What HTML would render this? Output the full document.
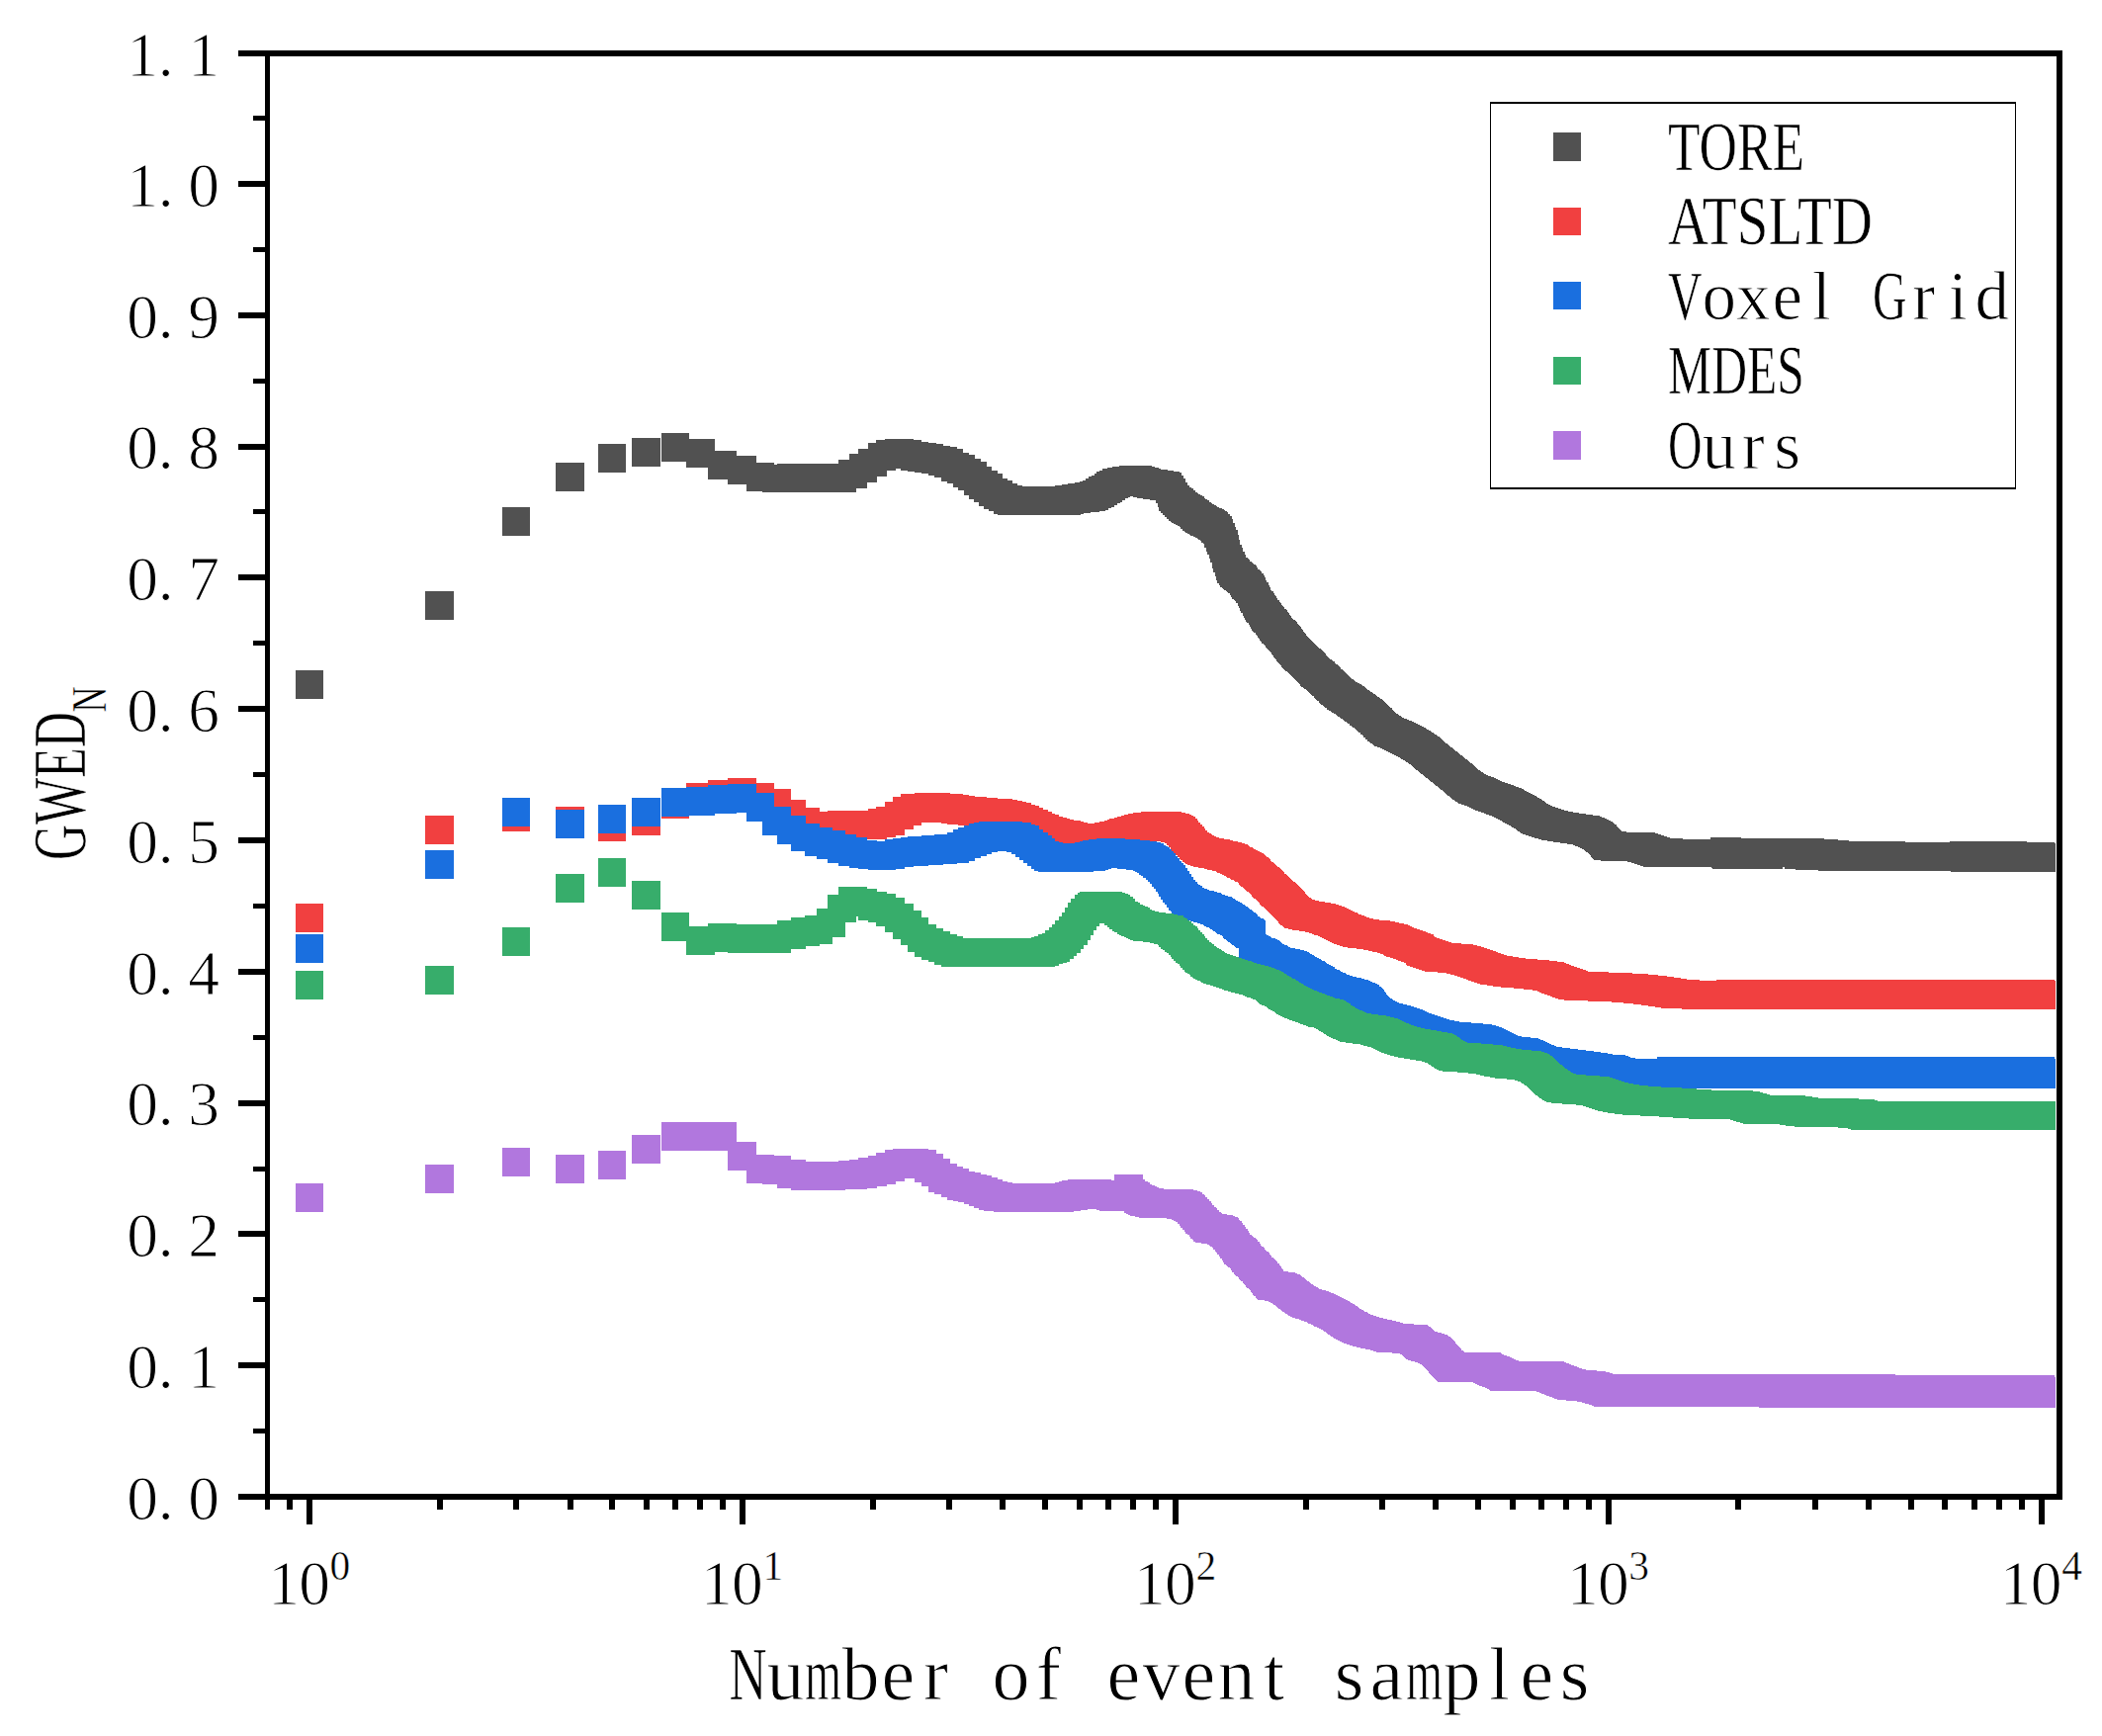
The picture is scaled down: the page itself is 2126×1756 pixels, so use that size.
<!DOCTYPE html>
<html lang="en"><head><meta charset="utf-8"><title>GWED vs number of event samples</title>
<style>html,body{margin:0;padding:0;background:#fff}svg{display:block}text{font-family:"Liberation Serif","Noto Serif CJK SC",serif;fill:#000;stroke:#fff;stroke-width:1px}.c{stroke-width:.6px}.s{stroke-width:.5px}.m{fill:none;stroke-width:28.7;stroke-linecap:square}</style></head><body>
<svg width="2126" height="1756" viewBox="0 0 2126 1756">
<rect width="2126" height="1756" fill="#fff"/>
<g shape-rendering="crispEdges">
<path class="m" stroke="#515151" d="M312.9 692.4h0M444.8 612.7h0M521.9 527.4h0M576.6 482.8h0M619 463.5h0M653.7 457.4h0M683 452.2h0M708.4 458.6h0M730.8 470.7h0M750.8 475.6h0M769 482.8h0M785.5 484h0M800.7 483.3h0M814.8 483.3h0M828 483.3h0M840.2 483.3h0M851.8 483.3h0M862.6 479.7h0M872.9 473.4h0M882.7 468h0M891.9 461.9h0M900.8 459.6h0M909.3 458.5h0M917.3 459.8h0M925.1 461.5h0M932.6 462.6h0M939.7 463.7h0M946.7 464.9h0M953.3 466.3h0M959.8 468.5h0M966 472.2h0M972.1 474.7h0M977.9 478.2h0M983.6 481.7h0M989.1 486.7h0M994.5 490.4h0M999.7 493.7h0M1004.7 498h0M1009.7 500.4h0M1014.5 502.9h0M1019.2 505.2h0M1023.8 506.4h0M1028.2 506.7h0M1032.6 506.8h0M1036.9 506.9h0M1041.1 507h0M1045.2 506.9h0M1049.2 506.9h0M1053.1 506.8h0M1056.9 506.8h0M1060.7 506.7h0M1064.4 506.6h0M1068 506.6h0M1071.6 506.5h0M1075.1 506.5h0M1078.5 506.2h0M1081.8 505.8h0M1085.2 505.1h0M1088.4 504.5h0M1091.6 504h0M1094.7 503.6h0M1097.8 503.2h0M1100.9 502.8h0M1103.9 502.4h0M1106.8 501.5h0M1109.7 500.1h0M1112.6 498.5h0M1115.4 496.8h0M1118.2 495h0M1120.9 493.3h0M1123.6 491.6h0M1126.3 489.9h0M1128.9 488.6h0M1131.5 487.9h0M1134 487.3h0M1136.6 486.9h0M1139 486.6h0M1141.5 486.4h0M1143.9 486.1h0M1146.3 485.8h0M1148.7 485.6h0M1151 485.3h0M1153.3 486.1h0M1155.6 487h0M1157.8 487.8h0M1160.1 488.7h0M1162.3 489.1h0M1164.4 489.4h0M1166.6 489.8h0M1168.7 490.1h0M1170.8 490.5h0M1172.9 490.8h0M1174.9 491.1h0M1177 491.5h0M1179 491.8h0M1181 492.1h0M1183 494.9h0M1184.9 498.7h0M1186.8 502.6h0M1188.8 505h0M1190.6 506.9h0M1192.5 508.8h0M1194.4 510.7h0M1196.2 512.4h0M1198 513.5h0M1199.8 514.6h0M1201.6 515.7h0M1203.4 516.8h0M1205.1 518h0M1206.9 519.1h0M1208.6 520.6h0M1210.3 522.2h0M1212 523.8h0M1213.7 524.7h0M1215.3 525.5h0M1217 526.4h0M1218.6 527.2h0M1220.2 528h0M1221.8 528.8h0M1223.4 529.6h0M1225 530.5h0M1226.6 531.3h0M1228.1 532.4h0M1229.7 534.2h0M1231.2 535.9h0M1232.7 539.5h0M1234.2 543.3h0M1235.7 546.9h0M1237.2 550.7h0M1238.6 554.9h0M1240.1 560.4h0M1241.5 564.9h0M1243 568.6h0M1244.4 572.2h0M1245.8 575.7h0M1247.2 577.9h0M1248.6 579.3h0M1250 580.7h0M1251.4 581.9h0M1252.7 582.9h0M1254.1 583.9h0M1255.4 584.9h0M1256.8 586.1h0M1258.1 588.1h0M1259.4 590h0M1260.7 591.4h0M1262 592.7h0M1263.3 594h0M1264.6 596.1h0M1265.9 598.6h0M1267.1 601.1h0M1268.4 603.7h0M1269.6 606.1h0M1270.9 608.6h0M1272.1 611h0M1273.3 612.8h0M1274.5 614.5h0M1275.7 616.1h0M1276.9 617.8h0M1278.1 619.6h0M1279.3 621.5h0M1280.5 623.3h0M1281.7 624.7h0M1282.8 626h0M1284 627.4h0M1285.1 628.7h0M1286.3 630.2h0M1287.4 631.8h0M1288.5 633.3h0M1289.7 634.8h0M1290.8 636.2h0M1291.9 637.7h0M1293 639.1h0M1294.1 640.5h0M1295.2 641.6h0M1296.3 642.7h0M1297.3 643.8h0M1298.4 644.9h0M1299.5 646h0M1300.5 647.3h0M1301.6 648.7h0M1302.6 650.2h0M1303.7 651.6h0M1304.7 652.9h0M1305.7 654.3h0M1306.8 655.6h0M1307.8 656.9h0M1308.8 658.1h0M1309.8 659.1h0M1310.8 660.2h0M1311.8 661.2h0M1312.8 662.2h0M1313.8 663.2h0M1314.8 664.2h0M1315.8 665.1h0M1316.7 666.1h0M1317.7 667h0M1318.7 668h0M1319.6 668.9h0M1320.6 669.9h0M1321.5 670.8h0M1322.5 671.8h0M1323.4 672.8h0M1324.3 673.7h0M1325.3 674.7h0M1326.2 675.6h0M1327.1 676.5h0M1328 677.4h0M1328.9 678.3h0M1329.8 679.2h0M1330.8 680.2h0M1331.7 681h0M1332.5 681.7h0M1333.4 682.4h0M1334.3 683.1h0M1335.2 683.8h0M1336.1 684.5h0M1337 685.2h0M1337.8 685.9h0M1338.7 686.6h0M1339.6 687.5h0M1340.4 688.3h0M1341.3 689.2h0M1342.1 690h0M1343 690.9h0M1343.8 691.7h0M1344.7 692.6h0M1345.5 693.4h0M1346.3 694.2h0M1347.2 695.1h0M1348 695.9h0M1348.8 696.7h0M1349.6 697.5h0M1350.4 698.3h0M1351.2 698.9h0M1352 699.6h0M1352.9 700.2h0M1353.7 700.9h0M1354.5 701.5h0M1355.2 702.1h0M1356 702.8h0M1356.8 703.4h0M1357.6 704h0M1358.4 704.4h0M1359.2 704.9h0M1359.9 705.4h0M1360.7 705.8h0M1361.5 706.3h0M1362.2 706.8h0M1363 707.2h0M1363.8 707.7h0M1364.5 708.1h0M1365.3 708.7h0M1366 709.2h0M1366.8 709.8h0M1367.5 710.3h0M1368.3 710.9h0M1369 711.4h0M1369.7 712h0M1370.5 712.5h0M1371.2 713h0M1371.9 713.6h0M1372.6 714.1h0M1373.4 714.6h0M1374.1 715.1h0M1374.8 715.6h0M1375.5 716.1h0M1376.2 716.6h0M1376.9 717.1h0M1377.6 717.6h0M1378.3 718.1h0M1379 718.6h0M1379.7 719.2h0M1380.4 719.7h0M1381.1 720.2h0M1381.8 720.7h0M1382.5 721.2h0M1383.2 721.7h0M1383.9 722.2h0M1384.6 722.7h0M1385.2 723.4h0M1385.9 724h0M1386.6 724.6h0M1387.3 725.2h0M1387.9 725.8h0M1388.6 726.4h0M1389.3 727h0M1389.9 727.6h0M1390.6 728.3h0M1391.2 728.9h0M1391.9 729.5h0M1392.5 730.1h0M1393.2 730.8h0M1393.8 731.4h0M1394.5 732.1h0M1395.1 732.7h0M1395.8 733.4h0M1396.4 734h0M1397 734.6h0M1397.7 735.2h0M1398.7 735.9h0M1399.7 736.6h0M1400.7 737.3h0M1401.7 738.1h0M1402.7 738.8h0M1403.7 739.5h0M1404.7 740.2h0M1405.7 740.6h0M1406.7 741h0M1407.7 741.4h0M1408.7 741.8h0M1409.7 742.1h0M1410.7 742.5h0M1411.7 742.9h0M1412.7 743.3h0M1413.7 743.8h0M1414.7 744.3h0M1415.7 744.8h0M1416.7 745.3h0M1417.7 745.8h0M1418.7 746.3h0M1419.7 746.8h0M1420.7 747.2h0M1421.7 747.7h0M1422.7 748.2h0M1423.7 748.8h0M1424.7 749.3h0M1425.7 749.8h0M1426.7 750.3h0M1427.7 750.8h0M1428.7 751.4h0M1429.7 752h0M1430.7 752.6h0M1431.7 753.2h0M1432.7 753.8h0M1433.7 754.4h0M1434.7 755h0M1435.7 755.7h0M1436.7 756.3h0M1437.7 757h0M1438.7 757.7h0M1439.7 758.4h0M1440.7 759.1h0M1441.7 759.8h0M1442.7 760.6h0M1443.7 761.5h0M1444.7 762.4h0M1445.7 763.3h0M1446.7 764.2h0M1447.7 765.1h0M1448.7 765.9h0M1449.7 766.7h0M1450.7 767.5h0M1451.7 768.3h0M1452.7 769.1h0M1453.7 769.9h0M1454.7 770.7h0M1455.7 771.5h0M1456.7 772.3h0M1457.7 773.1h0M1458.7 773.9h0M1459.7 774.7h0M1460.7 775.5h0M1461.7 776.3h0M1462.7 777.1h0M1463.7 777.9h0M1464.7 778.7h0M1465.7 779.5h0M1466.7 780.3h0M1467.7 781.1h0M1468.7 781.9h0M1469.7 782.7h0M1470.7 783.5h0M1471.7 784.3h0M1472.7 785.1h0M1473.7 785.9h0M1474.7 786.7h0M1475.7 787.5h0M1476.7 788.4h0M1477.7 789.3h0M1478.7 790.2h0M1479.7 791.1h0M1480.7 792h0M1481.7 792.9h0M1482.7 793.7h0M1483.7 794.4h0M1484.7 795.1h0M1485.7 795.7h0M1486.7 796.4h0M1487.7 797.1h0M1488.7 797.7h0M1489.7 798.3h0M1490.7 798.6h0M1491.7 799h0M1492.7 799.3h0M1493.7 799.6h0M1494.7 800h0M1495.7 800.3h0M1496.7 800.6h0M1497.7 801h0M1498.7 801.4h0M1499.7 801.9h0M1500.7 802.4h0M1501.7 802.9h0M1502.7 803.4h0M1503.7 803.9h0M1504.7 804.4h0M1505.7 804.9h0M1506.7 805.4h0M1507.7 805.7h0M1508.7 806.1h0M1509.7 806.4h0M1510.7 806.7h0M1511.7 807.1h0M1512.7 807.4h0M1513.7 807.7h0M1514.7 808.1h0M1515.7 808.4h0M1516.7 808.8h0M1517.7 809.2h0M1518.7 809.5h0M1519.7 809.9h0M1520.7 810.3h0M1521.7 810.7h0M1522.7 811.1h0M1523.7 811.4h0M1524.7 811.8h0M1525.7 812.3h0M1526.7 812.8h0M1527.7 813.4h0M1528.7 813.9h0M1529.7 814.5h0M1530.7 815h0M1531.7 815.6h0M1532.7 816.1h0M1533.7 816.7h0M1534.7 817.2h0M1535.7 817.7h0M1536.7 818.3h0M1537.7 818.8h0M1538.7 819.3h0M1539.7 819.8h0M1540.7 820.4h0M1541.7 821h0M1542.7 821.6h0M1543.7 822.2h0M1544.7 822.8h0M1545.7 823.4h0M1546.7 824h0M1547.7 824.7h0M1548.7 825.4h0M1549.7 826.2h0M1550.7 826.9h0M1551.7 827.7h0M1552.7 828.4h0M1553.7 828.8h0M1554.7 829.2h0M1555.7 829.6h0M1556.7 829.9h0M1557.7 830.3h0M1558.7 830.7h0M1559.7 831h0M1560.7 831.4h0M1561.7 831.8h0M1562.7 832.1h0M1563.7 832.4h0M1564.7 832.7h0M1565.7 833h0M1566.7 833.3h0M1567.7 833.6h0M1568.7 833.9h0M1569.7 834.1h0M1570.7 834.4h0M1571.7 834.7h0M1572.7 835h0M1573.7 835.2h0M1574.7 835.4h0M1575.7 835.6h0M1576.7 835.7h0M1577.7 835.9h0M1578.7 836.1h0M1579.7 836.3h0M1580.7 836.4h0M1581.7 836.6h0M1582.7 836.8h0M1583.7 837h0M1584.7 837.1h0M1585.7 837.3h0M1586.7 837.4h0M1587.7 837.5h0M1588.7 837.6h0M1589.7 837.8h0M1590.7 837.9h0M1591.7 838h0M1592.7 838.2h0M1593.7 838.3h0M1594.7 838.4h0M1595.7 838.6h0M1596.7 838.7h0M1597.7 838.9h0M1598.7 839h0M1599.7 839.2h0M1600.7 839.4h0M1601.7 839.5h0M1602.7 839.7h0M1603.7 839.8h0M1604.7 840h0M1605.7 840.4h0M1606.7 840.9h0M1607.7 841.3h0M1608.7 841.7h0M1609.7 842.1h0M1610.7 842.6h0M1611.7 843h0M1612.7 843.4h0M1613.7 843.9h0M1614.7 844.3h0M1615.7 845h0M1616.7 845.8h0M1617.7 846.5h0M1618.7 847.3h0M1619.7 848h0M1620.7 848.8h0M1621.7 850h0M1622.7 851.1h0M1623.7 852.3h0M1624.7 853.4h0M1625.7 854.6h0M1626.7 855.3h0M1627.7 855.5h0M1628.7 855.6h0M1629.7 855.7h0M1630.7 855.8h0M1631.7 855.9h0M1632.7 856h0M1633.7 856.2h0M1634.7 856.3h0M1635.7 856.4h0M1636.7 856.5h0M1637.7 856.6h0M1638.7 856.7h0M1639.7 856.9h0M1640.7 856.9h0M1641.7 856.8h0M1642.7 856.8h0M1643.7 856.8h0M1644.7 856.7h0M1645.7 856.7h0M1646.7 856.7h0M1647.7 856.6h0M1648.7 856.6h0M1649.7 856.6h0M1650.7 856.5h0M1651.7 856.5h0M1652.7 856.5h0M1653.7 856.4h0M1654.7 856.4h0M1655.7 856.4h0M1656.7 856.3h0M1657.7 856.3h0M1658.7 856.5h0M1659.7 856.8h0M1660.7 857.2h0M1661.7 857.5h0M1662.7 857.8h0M1663.7 858.1h0M1664.7 858.4h0M1665.7 858.8h0M1666.7 859.1h0M1667.7 859.4h0M1668.7 859.7h0M1669.7 860.1h0M1670.7 860.4h0M1671.7 860.8h0M1672.7 861.1h0M1673.7 861.5h0M1674.7 861.8h0M1675.7 862.1h0M1676.7 862.5h0M1677.7 862.6h0M1678.7 862.6h0M1679.7 862.7h0M1680.7 862.7h0M1681.7 862.7h0M1682.7 862.7h0M1683.7 862.8h0M1684.7 862.8h0M1685.7 862.8h0M1686.7 862.8h0M1687.7 862.8h0M1688.7 862.9h0M1689.7 862.9h0M1690.7 862.9h0M1691.7 862.9h0M1692.7 862.9h0M1693.7 862.9h0M1694.7 862.9h0M1695.7 862.9h0M1696.7 862.9h0M1697.7 862.9h0M1698.7 862.9h0M1699.7 862.9h0M1700.7 862.9h0M1701.7 862.9h0M1702.7 862.9h0M1703.7 862.9h0M1704.7 862.9h0M1705.7 862.9h0M1706.7 862.9h0M1707.7 862.9h0M1708.7 862.9h0M1709.7 862.9h0M1710.7 862.9h0M1711.7 862.9h0M1712.7 862.9h0M1713.7 862.9h0M1714.7 862.9h0M1715.7 862.9h0M1716.7 862.9h0M1717.7 862.9h0M1718.7 862.9h0M1719.7 862.9h0M1720.7 862.9h0M1721.7 862.9h0M1722.7 862.9h0M1723.7 862.9h0M1724.7 862.9h0M1725.7 862.9h0M1726.7 862.9h0M1727.7 862.9h0M1728.7 862.9h0M1729.7 862.9h0M1730.7 862.9h0M1731.7 862.9h0M1732.7 862.9h0M1733.7 862.9h0M1734.7 862.9h0M1735.7 862.9h0M1736.7 862.9h0M1737.7 862.9h0M1738.7 862.9h0M1739.7 862.9h0M1740.7 862.9h0M1741.7 862.9h0M1742.7 862.9h0M1743.7 862.9h0M1744.7 861.7h0M1745.2 864.1h0M1745.7 861.8h0M1746.2 864.2h0M1746.7 861.8h0M1747.2 864.2h0M1747.7 861.9h0M1748.2 864.3h0M1748.7 861.9h0M1749.2 864.3h0M1749.7 861.9h0M1750.2 864.3h0M1750.7 862h0M1751.2 864.4h0M1751.7 862h0M1752.2 864.4h0M1752.7 862.1h0M1753.2 864.5h0M1753.7 862.1h0M1754.2 864.5h0M1754.7 862.2h0M1755.2 864.6h0M1755.7 862.2h0M1756.2 864.6h0M1756.7 862.3h0M1757.2 864.7h0M1757.7 862.3h0M1758.2 864.7h0M1758.7 862.3h0M1759.2 864.7h0M1759.7 862.4h0M1760.2 864.8h0M1760.7 862.4h0M1761.2 864.8h0M1761.7 862.4h0M1762.2 864.8h0M1762.7 862.4h0M1763.2 864.8h0M1763.7 862.4h0M1764.2 864.8h0M1764.7 862.4h0M1765.2 864.8h0M1765.7 862.4h0M1766.2 864.8h0M1766.7 862.4h0M1767.2 864.8h0M1767.7 862.4h0M1768.2 864.8h0M1768.7 862.4h0M1769.2 864.8h0M1769.7 862.4h0M1770.2 864.8h0M1770.7 862.4h0M1771.2 864.8h0M1771.7 862.4h0M1772.2 864.8h0M1772.7 862.4h0M1773.2 864.8h0M1773.7 862.4h0M1774.2 864.8h0M1774.7 862.4h0M1775.2 864.8h0M1775.7 862.4h0M1776.2 864.8h0M1776.7 862.4h0M1777.2 864.8h0M1777.7 862.4h0M1778.2 864.8h0M1778.7 862.4h0M1779.2 864.8h0M1779.7 862.4h0M1780.2 864.8h0M1780.7 862.4h0M1781.2 864.8h0M1781.7 862.4h0M1782.2 864.8h0M1782.7 862.4h0M1783.2 864.8h0M1783.7 862.4h0M1784.2 864.8h0M1784.7 862.4h0M1785.2 864.8h0M1785.7 862.4h0M1786.2 864.8h0M1786.7 862.2h0M1787.2 864.6h0M1787.7 861.9h0M1788.2 864.3h0M1788.7 862.7h0M1789.7 862.4h0M1790.7 862.3h0M1791.7 862.3h0M1792.7 862.3h0M1793.7 862.3h0M1794.7 862.3h0M1795.7 862.3h0M1796.7 862.3h0M1797.7 862.3h0M1798.7 862.3h0M1799.7 862.3h0M1800.7 862.3h0M1801.7 862.3h0M1802.7 862.3h0M1803.7 862.3h0M1804.7 862.3h0M1805.7 862.3h0M1806.7 862.3h0M1807.7 862.3h0M1808.7 862.3h0M1809.7 862.3h0M1810.7 862.3h0M1811.7 862.3h0M1812.7 862.3h0M1813.7 862.3h0M1814.7 862.3h0M1815.7 862.3h0M1816.7 862.5h0M1817.7 862.8h0M1818.7 862h0M1819.2 864.4h0M1819.7 862.3h0M1820.2 864.7h0M1820.7 862.4h0M1821.2 864.8h0M1821.7 862.5h0M1822.2 864.9h0M1822.7 862.5h0M1823.2 864.9h0M1823.7 862.5h0M1824.2 864.9h0M1824.7 862.6h0M1825.2 865h0M1825.7 862.6h0M1826.2 865h0M1826.7 862.7h0M1827.2 865.1h0M1827.7 862.7h0M1828.2 865.1h0M1828.7 862.7h0M1829.2 865.1h0M1829.7 862.8h0M1830.2 865.2h0M1830.7 862.8h0M1831.2 865.2h0M1831.7 862.9h0M1832.2 865.3h0M1832.7 862.9h0M1833.2 865.3h0M1833.7 862.9h0M1834.2 865.3h0M1834.7 863h0M1835.2 865.4h0M1835.7 863h0M1836.2 865.4h0M1836.7 863.1h0M1837.2 865.5h0M1837.7 863.1h0M1838.2 865.5h0M1838.7 863.1h0M1839.2 865.5h0M1839.7 863.2h0M1840.2 865.6h0M1840.7 863.2h0M1841.2 865.6h0M1841.7 863.2h0M1842.2 865.6h0M1842.7 863.3h0M1843.2 865.7h0M1843.7 863.7h0M1844.2 865.4h0M1844.7 863.8h0M1845.2 865.5h0M1845.7 863.9h0M1846.2 865.6h0M1846.7 864h0M1847.2 865.7h0M1847.7 864.1h0M1848.2 865.8h0M1848.7 864.2h0M1849.2 865.9h0M1849.7 864.2h0M1850.2 865.9h0M1850.7 864.3h0M1851.2 866h0M1851.7 864.4h0M1852.2 866.1h0M1852.7 864.5h0M1853.2 866.2h0M1853.7 864.6h0M1854.2 866.3h0M1854.7 864.7h0M1855.2 866.4h0M1855.7 864.8h0M1856.2 866.5h0M1856.7 864.9h0M1857.2 866.6h0M1857.7 864.9h0M1858.2 866.6h0M1858.7 865h0M1859.2 866.7h0M1859.7 865.1h0M1860.2 866.8h0M1860.7 865.2h0M1861.2 866.9h0M1861.7 865.2h0M1862.2 866.9h0M1862.7 865.2h0M1863.2 866.9h0M1863.7 865.2h0M1864.2 866.9h0M1864.7 865.2h0M1865.2 866.9h0M1865.7 865.2h0M1866.2 866.9h0M1866.7 865.2h0M1867.2 866.9h0M1867.7 865.2h0M1868.2 866.9h0M1868.7 865.2h0M1869.2 866.9h0M1869.7 865.2h0M1870.2 866.9h0M1870.7 865.2h0M1871.2 866.9h0M1871.7 865.2h0M1872.2 866.9h0M1872.7 865.2h0M1873.2 866.9h0M1873.7 865.2h0M1874.2 866.9h0M1874.7 865.2h0M1875.2 866.9h0M1875.7 865.2h0M1876.2 866.9h0M1876.7 865.2h0M1877.2 866.9h0M1877.7 865.2h0M1878.2 866.9h0M1878.7 865.2h0M1879.2 866.9h0M1879.7 865.2h0M1880.2 866.9h0M1880.7 865.2h0M1881.2 866.9h0M1881.7 865.2h0M1882.2 866.9h0M1882.7 865.2h0M1883.2 866.9h0M1883.7 865.2h0M1884.2 866.9h0M1884.7 865.2h0M1885.2 866.9h0M1885.7 865.2h0M1886.2 866.9h0M1886.7 865.3h0M1887.2 867h0M1887.7 865.3h0M1888.2 867h0M1888.7 865.3h0M1889.2 867h0M1889.7 865.3h0M1890.2 867h0M1890.7 865.3h0M1891.2 867h0M1891.7 865.3h0M1892.2 867h0M1892.7 865.3h0M1893.2 867h0M1893.7 865.3h0M1894.2 867h0M1894.7 865.3h0M1895.2 867h0M1895.7 865.3h0M1896.2 867h0M1896.7 865.3h0M1897.2 867h0M1897.7 865.3h0M1898.2 867h0M1898.7 865.3h0M1899.2 867h0M1899.7 865.3h0M1900.2 867h0M1900.7 865.3h0M1901.2 867h0M1901.7 865.3h0M1902.2 867h0M1902.7 865.3h0M1903.2 867h0M1903.7 865.3h0M1904.2 867h0M1904.7 865.3h0M1905.2 867h0M1905.7 865.3h0M1906.2 867h0M1906.7 865.3h0M1907.2 867h0M1907.7 865.3h0M1908.2 867h0M1908.7 865.3h0M1909.2 867h0M1909.7 865.3h0M1910.2 867h0M1910.7 865.3h0M1911.2 867h0M1911.7 865.3h0M1912.2 867h0M1912.7 865.3h0M1913.2 867h0M1913.7 866.2h0M1914.7 866.2h0M1915.7 866.2h0M1916.7 866.2h0M1917.7 866.2h0M1918.7 866.2h0M1919.7 866.2h0M1920.7 866.2h0M1921.7 866.2h0M1922.7 866.2h0M1923.7 866.2h0M1924.7 866.2h0M1925.7 866.2h0M1926.7 866.2h0M1927.7 866.2h0M1928.7 866.2h0M1929.7 866.2h0M1930.7 866.2h0M1931.7 866.2h0M1932.7 866.2h0M1933.7 866.2h0M1934.7 866.2h0M1935.7 866.2h0M1936.7 866.2h0M1937.7 866.2h0M1938.7 866.2h0M1939.7 866.2h0M1940.7 866.2h0M1941.7 866.2h0M1942.7 866.2h0M1943.7 866.2h0M1944.7 866.2h0M1945.7 866.2h0M1946.7 866.2h0M1947.7 866.2h0M1948.7 866.2h0M1949.7 866.3h0M1950.7 866.3h0M1951.7 866.3h0M1952.7 866.3h0M1953.7 866.3h0M1954.7 866.3h0M1955.7 866.3h0M1956.7 866.3h0M1957.7 866.3h0M1958.7 866.3h0M1959.7 866.3h0M1960.7 866.3h0M1961.7 866.3h0M1962.7 866.3h0M1963.7 866.3h0M1964.7 866.3h0M1965.7 866.3h0M1966.7 866.3h0M1967.7 866.3h0M1968.7 866.3h0M1969.7 866.3h0M1970.7 866.3h0M1971.7 866.3h0M1972.7 866.3h0M1973.7 866.3h0M1974.7 866.3h0M1975.7 866.3h0M1976.7 866.3h0M1977.7 866.3h0M1978.7 866.3h0M1979.7 866.3h0M1980.7 866.3h0M1981.7 866.3h0M1982.7 866.3h0M1983.7 866.3h0M1984.7 866.3h0M1985.7 866.3h0M1986.7 865.1h0M1987.2 867.5h0M1987.7 865.1h0M1988.2 867.5h0M1988.7 865.2h0M1989.2 867.6h0M1989.7 865.2h0M1990.2 867.6h0M1990.7 865.2h0M1991.2 867.6h0M1991.7 865.2h0M1992.2 867.6h0M1992.7 865.2h0M1993.2 867.6h0M1993.7 865.3h0M1994.2 867.7h0M1994.7 865.3h0M1995.2 867.7h0M1995.7 865.3h0M1996.2 867.7h0M1996.7 865.3h0M1997.2 867.7h0M1997.7 865.4h0M1998.2 867.8h0M1998.7 865.4h0M1999.2 867.8h0M1999.7 865.4h0M2000.2 867.8h0M2000.7 865.4h0M2001.2 867.8h0M2001.7 865.4h0M2002.2 867.8h0M2002.7 865.4h0M2003.2 867.8h0M2003.7 865.4h0M2004.2 867.8h0M2004.7 865.4h0M2005.2 867.8h0M2005.7 865.4h0M2006.2 867.8h0M2006.7 865.4h0M2007.2 867.8h0M2007.7 865.4h0M2008.2 867.8h0M2008.7 865.4h0M2009.2 867.8h0M2009.7 865.5h0M2010.2 867.9h0M2010.7 865.5h0M2011.2 867.9h0M2011.7 865.5h0M2012.2 867.9h0M2012.7 865.5h0M2013.2 867.9h0M2013.7 865.5h0M2014.2 867.9h0M2014.7 865.5h0M2015.2 867.9h0M2015.7 865.5h0M2016.2 867.9h0M2016.7 865.5h0M2017.2 867.9h0M2017.7 865.5h0M2018.2 867.9h0M2018.7 865.5h0M2019.2 867.9h0M2019.7 865.5h0M2020.2 867.9h0M2020.7 865.5h0M2021.2 867.9h0M2021.7 865.5h0M2022.2 867.9h0M2022.7 865.5h0M2023.2 867.9h0M2023.7 865.5h0M2024.2 867.9h0M2024.7 865.5h0M2025.2 867.9h0M2025.7 865.5h0M2026.2 867.9h0M2026.7 865.5h0M2027.2 867.9h0M2027.7 865.6h0M2028.2 868h0M2028.7 865.6h0M2029.2 868h0M2029.7 865.6h0M2030.2 868h0M2030.7 865.6h0M2031.2 868h0M2031.7 865.6h0M2032.2 868h0M2032.7 865.6h0M2033.2 868h0M2033.7 865.6h0M2034.2 868h0M2034.7 865.6h0M2035.2 868h0M2035.7 865.6h0M2036.2 868h0M2036.7 866.4h0M2037.2 867.2h0M2037.7 866.4h0M2038.2 867.2h0M2038.7 866.4h0M2039.2 867.2h0M2039.7 866.4h0M2040.2 867.2h0M2040.7 866.4h0M2041.2 867.2h0M2041.7 866.4h0M2042.2 867.2h0M2042.7 866.4h0M2043.2 867.2h0M2043.7 866.4h0M2044.2 867.2h0M2044.7 866.5h0M2045.2 867.3h0M2045.7 866.5h0M2046.2 867.3h0M2046.7 866.5h0M2047.2 867.3h0M2047.7 866.5h0M2048.2 867.3h0M2048.7 866.5h0M2049.2 867.3h0M2049.7 866.5h0M2050.2 867.3h0M2050.7 866.5h0M2051.2 867.3h0M2051.7 866.5h0M2052.2 867.3h0M2052.7 866.5h0M2053.2 867.3h0M2053.7 866.5h0M2054.2 867.3h0M2054.7 866.5h0M2055.2 867.3h0M2055.7 866.5h0M2056.2 867.3h0M2056.7 866.5h0M2057.2 867.3h0M2057.7 866.5h0M2058.2 867.3h0M2058.7 866.5h0M2059.2 867.3h0M2059.7 866.5h0M2060.2 867.3h0M2060.7 866.5h0M2061.2 867.3h0M2061.7 866.6h0M2062.2 867.4h0M2062.7 866.6h0M2063.2 867.4h0M2063.7 866.6h0M2064.2 867.4h0M2064.5 867h0"/>
<path class="m" stroke="#F14040" d="M312.9 928.4h0M444.8 839.4h0M521.9 826.3h0M576.6 830.5h0M619 836.4h0M653.7 830.3h0M683 813.3h0M708.4 806.3h0M730.8 803.7h0M750.8 801.1h0M769 806.3h0M785.5 812.4h0M800.7 823.3h0M814.8 831.4h0M828 835.4h0M840.2 835.4h0M851.8 834.8h0M862.6 834.8h0M872.9 834.8h0M882.7 834.8h0M891.9 832.7h0M900.8 830.6h0M909.3 824.9h0M917.3 820.3h0M925.1 817.7h0M932.6 817.2h0M939.7 816.8h0M946.7 816.8h0M953.3 816.9h0M959.8 817.8h0M966 818.6h0M972.1 819.3h0M977.9 820h0M983.6 820.7h0M989.1 821.2h0M994.5 821.6h0M999.7 821.9h0M1004.7 822.2h0M1009.7 822.7h0M1014.5 823.5h0M1019.2 824.3h0M1023.8 825.1h0M1028.2 826h0M1032.6 827.9h0M1036.9 829.7h0M1041.1 831.6h0M1045.2 833.6h0M1049.2 835.5h0M1053.1 837.2h0M1056.9 838.8h0M1060.7 840.1h0M1064.4 841.2h0M1068 842.3h0M1071.6 843.2h0M1075.1 844h0M1078.5 844.7h0M1081.8 845.5h0M1085.2 846.2h0M1088.4 846.9h0M1091.6 847.6h0M1094.7 848.3h0M1097.8 848.4h0M1100.9 848.4h0M1103.9 848.4h0M1106.8 848.4h0M1109.7 848.4h0M1112.6 848h0M1115.4 847.6h0M1118.2 847.2h0M1120.9 846.8h0M1123.6 846.5h0M1126.3 845.7h0M1128.9 845h0M1131.5 844.3h0M1134 843.5h0M1136.6 842.8h0M1139 842h0M1141.5 841.3h0M1143.9 840.6h0M1146.3 839.9h0M1148.7 839.3h0M1151 838.7h0M1153.3 838.2h0M1155.6 837.6h0M1157.8 837.1h0M1160.1 836.8h0M1162.3 836.6h0M1164.4 836.3h0M1166.6 836.1h0M1168.7 835.8h0M1170.8 835.6h0M1172.9 835.5h0M1174.9 835.5h0M1177 835.5h0M1179 835.5h0M1181 835.5h0M1183 835.9h0M1184.9 836.4h0M1186.8 837h0M1188.8 837.6h0M1190.6 838.1h0M1192.5 839.1h0M1194.4 840.8h0M1196.2 842.5h0M1198 844.2h0M1199.8 846.2h0M1201.6 848.4h0M1203.4 850.6h0M1205.1 852.6h0M1206.9 854.4h0M1208.6 856.1h0M1210.3 857.8h0M1212 858.7h0M1213.7 859.5h0M1215.3 860.3h0M1217 861.1h0M1218.6 861.6h0M1220.2 861.9h0M1221.8 862.2h0M1223.4 862.6h0M1225 862.9h0M1226.6 863.2h0M1228.1 863.5h0M1229.7 863.8h0M1231.2 864.1h0M1232.7 864.5h0M1234.2 864.9h0M1235.7 865.2h0M1237.2 865.6h0M1238.6 865.9h0M1240.1 866.3h0M1241.5 866.6h0M1243 867.1h0M1244.4 867.6h0M1245.8 868.2h0M1247.2 868.7h0M1248.6 869.4h0M1250 870.2h0M1251.4 871h0M1252.7 871.8h0M1254.1 872.7h0M1255.4 873.4h0M1256.8 874.1h0M1258.1 874.7h0M1259.4 875.4h0M1260.7 876h0M1262 876.7h0M1263.3 877.3h0M1264.6 877.9h0M1265.9 879h0M1267.1 880.2h0M1268.4 881.5h0M1269.6 882.7h0M1270.9 883.8h0M1272.1 884.9h0M1273.3 885.9h0M1274.5 887h0M1275.7 888h0M1276.9 889h0M1278.1 890h0M1279.3 891h0M1280.5 892.2h0M1281.7 893.4h0M1282.8 894.5h0M1284 895.7h0M1285.1 896.8h0M1286.3 898h0M1287.4 899.1h0M1288.5 900.3h0M1289.7 901.4h0M1290.8 902.5h0M1291.9 903.7h0M1293 904.7h0M1294.1 905.6h0M1295.2 906.5h0M1296.3 907.4h0M1297.3 908.3h0M1298.4 909.4h0M1299.5 910.5h0M1300.5 911.5h0M1301.6 912.6h0M1302.6 913.6h0M1303.7 914.7h0M1304.7 915.7h0M1305.7 916.8h0M1306.8 918h0M1307.8 919.3h0M1308.8 920.5h0M1309.8 921.3h0M1310.8 922h0M1311.8 922.7h0M1312.8 923.4h0M1313.8 924.2h0M1314.8 924.5h0M1315.8 924.8h0M1316.7 925h0M1317.7 925.3h0M1318.7 925.5h0M1319.6 925.8h0M1320.6 926h0M1321.5 926.2h0M1322.5 926.4h0M1323.4 926.5h0M1324.3 926.7h0M1325.3 926.8h0M1326.2 926.9h0M1327.1 927.1h0M1328 927.2h0M1328.9 927.4h0M1329.8 927.5h0M1330.8 927.6h0M1331.7 927.8h0M1332.5 927.9h0M1333.4 928h0M1334.3 928.2h0M1335.2 928.3h0M1336.1 928.4h0M1337 928.6h0M1337.8 928.9h0M1338.7 929.2h0M1339.6 929.5h0M1340.4 929.9h0M1341.3 930.2h0M1342.1 930.5h0M1343 930.8h0M1343.8 931.2h0M1344.7 931.5h0M1345.5 931.8h0M1346.3 932.1h0M1347.2 932.4h0M1348 932.8h0M1348.8 933.1h0M1349.6 933.5h0M1350.4 933.9h0M1351.2 934.3h0M1352 934.7h0M1352.9 935.1h0M1353.7 935.5h0M1354.5 935.9h0M1355.2 936.3h0M1356 936.7h0M1356.8 937.1h0M1357.6 937.4h0M1358.4 937.8h0M1359.2 938.2h0M1359.9 938.6h0M1360.7 939h0M1361.5 939.3h0M1362.2 939.6h0M1363 939.9h0M1363.8 940.2h0M1364.5 940.5h0M1365.3 940.8h0M1366 941.1h0M1366.8 941.4h0M1367.5 941.7h0M1368.3 941.9h0M1369 942.2h0M1369.7 942.4h0M1370.5 942.6h0M1371.2 942.9h0M1371.9 943.1h0M1372.6 943.4h0M1373.4 943.5h0M1374.1 943.7h0M1374.8 943.8h0M1375.5 943.9h0M1376.2 944.1h0M1376.9 944.2h0M1377.6 944.3h0M1378.3 944.4h0M1379 944.6h0M1379.7 944.7h0M1380.4 944.8h0M1381.1 944.9h0M1381.8 944.9h0M1382.5 945h0M1383.2 945h0M1383.9 945h0M1384.6 945.1h0M1385.2 945.1h0M1385.9 945.2h0M1386.6 945.2h0M1387.3 945.3h0M1387.9 945.3h0M1388.6 945.4h0M1389.3 945.4h0M1389.9 945.5h0M1390.6 945.5h0M1391.2 945.7h0M1391.9 945.8h0M1392.5 946h0M1393.2 946.1h0M1393.8 946.3h0M1394.5 946.4h0M1395.1 946.5h0M1395.8 946.7h0M1396.4 946.8h0M1397 947h0M1397.7 947.1h0M1398.7 947.3h0M1399.7 947.5h0M1400.7 947.7h0M1401.7 948h0M1402.7 948.2h0M1403.7 948.4h0M1404.7 948.6h0M1405.7 948.8h0M1406.7 949h0M1407.7 949.2h0M1408.7 949.4h0M1409.7 949.7h0M1410.7 950.2h0M1411.7 950.6h0M1412.7 951h0M1413.7 951.6h0M1414.7 952.2h0M1415.7 952.7h0M1416.7 953.2h0M1417.7 953.5h0M1418.7 953.8h0M1419.7 954.1h0M1420.7 954.4h0M1421.7 954.7h0M1422.7 955h0M1423.7 955.4h0M1424.7 955.7h0M1425.7 956.1h0M1426.7 956.5h0M1427.7 956.8h0M1428.7 957.2h0M1429.7 957.5h0M1430.7 957.9h0M1431.7 958.2h0M1432.7 958.6h0M1433.7 959h0M1434.7 959.3h0M1435.7 959.8h0M1436.7 961.2h0M1437.7 962.4h0M1438.7 962.8h0M1439.7 963.1h0M1440.7 963.4h0M1441.7 963.8h0M1442.7 964.1h0M1443.7 964.5h0M1444.7 964.8h0M1445.7 965.1h0M1446.7 965.5h0M1447.7 965.8h0M1448.7 966.1h0M1449.7 966.5h0M1450.7 966.8h0M1451.7 967.1h0M1452.7 967.5h0M1453.7 967.8h0M1454.7 968.1h0M1455.7 968.3h0M1456.7 968.3h0M1457.7 968.4h0M1458.7 968.5h0M1459.7 968.5h0M1460.7 968.6h0M1461.7 968.7h0M1462.7 968.7h0M1463.7 968.8h0M1464.7 968.9h0M1465.7 969h0M1466.7 969h0M1467.7 969.1h0M1468.7 969.2h0M1469.7 969.2h0M1470.7 969.3h0M1471.7 969.4h0M1472.7 969.4h0M1473.7 969.5h0M1474.7 969.6h0M1475.7 969.8h0M1476.7 970h0M1477.7 970.3h0M1478.7 970.5h0M1479.7 970.8h0M1480.7 971h0M1481.7 971.3h0M1482.7 971.5h0M1483.7 971.8h0M1484.7 972h0M1485.7 972.3h0M1486.7 972.5h0M1487.7 972.9h0M1488.7 973.2h0M1489.7 973.5h0M1490.7 973.9h0M1491.7 974.2h0M1492.7 974.6h0M1493.7 974.9h0M1494.7 975.2h0M1495.7 975.6h0M1496.7 976h0M1497.7 976.4h0M1498.7 976.8h0M1499.7 977.2h0M1500.7 977.6h0M1501.7 978h0M1502.7 978.4h0M1503.7 978.7h0M1504.7 979h0M1505.7 979.4h0M1506.7 979.7h0M1507.7 980h0M1508.7 980.3h0M1509.7 980.7h0M1510.7 981h0M1511.7 981.2h0M1512.7 981.4h0M1513.7 981.5h0M1514.7 981.7h0M1515.7 981.8h0M1516.7 982h0M1517.7 982.1h0M1518.7 982.3h0M1519.7 982.4h0M1520.7 982.6h0M1521.7 982.7h0M1522.7 982.9h0M1523.7 983.1h0M1524.7 983.2h0M1525.7 983.4h0M1526.7 983.5h0M1527.7 983.7h0M1528.7 983.8h0M1529.7 984h0M1530.7 984.1h0M1531.7 984.1h0M1532.7 984.2h0M1533.7 984.3h0M1534.7 984.4h0M1535.7 984.4h0M1536.7 984.5h0M1537.7 984.6h0M1538.7 984.7h0M1539.7 984.7h0M1540.7 984.8h0M1541.7 984.9h0M1542.7 985h0M1543.7 985h0M1544.7 985.1h0M1545.7 985.2h0M1546.7 985.3h0M1547.7 985.3h0M1548.7 985.4h0M1549.7 985.5h0M1550.7 985.6h0M1551.7 985.7h0M1552.7 985.8h0M1553.7 985.9h0M1554.7 986.1h0M1555.7 986.2h0M1556.7 986.3h0M1557.7 986.4h0M1558.7 986.5h0M1559.7 986.6h0M1560.7 986.7h0M1561.7 986.9h0M1562.7 987h0M1563.7 987.1h0M1564.7 987.2h0M1565.7 987.3h0M1566.7 987.4h0M1567.7 987.7h0M1568.7 988.1h0M1569.7 988.6h0M1570.7 989h0M1571.7 989.4h0M1572.7 989.8h0M1573.7 990.3h0M1574.7 990.7h0M1575.7 991.1h0M1576.7 991.5h0M1577.7 991.8h0M1578.7 992.1h0M1579.7 992.5h0M1580.7 992.8h0M1581.7 993.1h0M1582.7 993.5h0M1583.7 993.8h0M1584.7 994.2h0M1585.7 994.5h0M1586.7 994.8h0M1587.7 995.2h0M1588.7 995.5h0M1589.7 995.8h0M1590.7 996.2h0M1591.7 996.5h0M1592.7 996.9h0M1593.7 997h0M1594.7 997.1h0M1595.7 997.1h0M1596.7 997.2h0M1597.7 997.2h0M1598.7 997.2h0M1599.7 997.3h0M1600.7 997.3h0M1601.7 997.4h0M1602.7 997.4h0M1603.7 997.4h0M1604.7 997.5h0M1605.7 997.5h0M1606.7 997.6h0M1607.7 997.6h0M1608.7 997.7h0M1609.7 997.7h0M1610.7 997.7h0M1611.7 997.8h0M1612.7 997.8h0M1613.7 997.9h0M1614.7 997.9h0M1615.7 997.9h0M1616.7 998h0M1617.7 998h0M1618.7 998.1h0M1619.7 998.1h0M1620.7 998.2h0M1621.7 998.2h0M1622.7 998.2h0M1623.7 998.3h0M1624.7 998.3h0M1625.7 998.4h0M1626.7 998.4h0M1627.7 998.5h0M1628.7 998.5h0M1629.7 998.5h0M1630.7 998.6h0M1631.7 998.6h0M1632.7 998.7h0M1633.7 998.7h0M1634.7 998.7h0M1635.7 998.8h0M1636.7 998.8h0M1637.7 998.9h0M1638.7 998.9h0M1639.7 999h0M1640.7 999h0M1641.7 999h0M1642.7 999.1h0M1643.7 999.1h0M1644.7 999.2h0M1645.7 999.2h0M1646.7 999.2h0M1647.7 999.3h0M1648.7 999.4h0M1649.7 999.5h0M1650.7 999.6h0M1651.7 999.7h0M1652.7 999.8h0M1653.7 999.9h0M1654.7 1000h0M1655.7 1000.1h0M1656.7 1000.2h0M1657.7 1000.3h0M1658.7 1000.4h0M1659.7 1000.5h0M1660.7 1000.6h0M1661.7 1000.7h0M1662.7 1000.8h0M1663.7 1000.9h0M1664.7 1001h0M1665.7 1001.1h0M1666.7 1001.2h0M1667.7 1001.3h0M1668.7 1001.4h0M1669.7 1001.5h0M1670.7 1001.7h0M1671.7 1001.8h0M1672.7 1002h0M1673.7 1002.1h0M1674.7 1002.2h0M1675.7 1002.4h0M1676.7 1002.5h0M1677.7 1002.6h0M1678.7 1002.8h0M1679.7 1002.9h0M1680.7 1003.1h0M1681.7 1003.2h0M1682.7 1003.3h0M1683.7 1003.5h0M1684.7 1003.7h0M1685.7 1003.8h0M1686.7 1004h0M1687.7 1004.1h0M1688.7 1004.3h0M1689.7 1004.5h0M1690.7 1004.6h0M1691.7 1004.8h0M1692.7 1004.9h0M1693.7 1005.1h0M1694.7 1005.3h0M1695.7 1005.4h0M1696.7 1005.6h0M1697.7 1005.6h0M1698.7 1005.7h0M1699.7 1005.7h0M1700.7 1005.7h0M1701.7 1005.7h0M1702.7 1005.8h0M1703.7 1005.8h0M1704.7 1005.8h0M1705.7 1005.9h0M1706.7 1005.9h0M1707.7 1005.9h0M1708.7 1006h0M1709.7 1006h0M1710.7 1006h0M1711.7 1006h0M1712.7 1006.1h0M1713.7 1006.1h0M1714.7 1006.1h0M1715.7 1006.2h0M1716.7 1006.2h0M1717.7 1006.2h0M1718.7 1006.3h0M1719.7 1006.3h0M1720.7 1006.3h0M1721.7 1006.3h0M1722.7 1006.3h0M1723.7 1006.3h0M1724.7 1006.3h0M1725.7 1006.3h0M1726.7 1006.3h0M1727.7 1006.3h0M1728.7 1006.3h0M1729.7 1006.3h0M1730.7 1006.3h0M1731.7 1006.3h0M1732.7 1006.3h0M1733.7 1006.3h0M1734.7 1006.3h0M1735.7 1006.3h0M1736.7 1006.3h0M1737.7 1006.3h0M1738.7 1006.3h0M1739.7 1006.3h0M1740.7 1006.3h0M1741.7 1006.3h0M1742.7 1006.3h0M1743.7 1006.3h0M1744.7 1006.3h0M1745.7 1006.3h0M1746.7 1006.3h0M1747.7 1006.3h0M1748.7 1006.3h0M1749.7 1006.3h0M1750.7 1005.8h0M1751.2 1006.8h0M1751.7 1005.8h0M1752.2 1006.8h0M1752.7 1005.8h0M1753.2 1006.8h0M1753.7 1005.8h0M1754.2 1006.8h0M1754.7 1005.8h0M1755.2 1006.8h0M1755.7 1005.8h0M1756.2 1006.8h0M1756.7 1005.8h0M1757.2 1006.8h0M1757.7 1005.8h0M1758.2 1006.8h0M1758.7 1005.8h0M1759.2 1006.8h0M1759.7 1005.8h0M1760.2 1006.8h0M1760.7 1005.8h0M1761.2 1006.8h0M1761.7 1005.8h0M1762.2 1006.8h0M1762.7 1005.8h0M1763.2 1006.8h0M1763.7 1005.8h0M1764.2 1006.8h0M1764.7 1005.8h0M1765.2 1006.8h0M1765.7 1005.8h0M1766.2 1006.8h0M1766.7 1005.8h0M1767.2 1006.8h0M1767.7 1005.8h0M1768.2 1006.8h0M1768.7 1005.8h0M1769.2 1006.8h0M1769.7 1005.8h0M1770.2 1006.8h0M1770.7 1005.8h0M1771.2 1006.8h0M1771.7 1005.8h0M1772.2 1006.8h0M1772.7 1005.8h0M1773.2 1006.8h0M1773.7 1005.8h0M1774.2 1006.8h0M1774.7 1005.8h0M1775.2 1006.8h0M1775.7 1005.8h0M1776.2 1006.8h0M1776.7 1005.8h0M1777.2 1006.8h0M1777.7 1005.8h0M1778.2 1006.8h0M1778.7 1005.7h0M1779.2 1006.7h0M1779.7 1005.7h0M1780.2 1006.7h0M1780.7 1005.7h0M1781.2 1006.7h0M1781.7 1005.7h0M1782.2 1006.7h0M1782.7 1005.7h0M1783.2 1006.7h0M1783.7 1005.7h0M1784.2 1006.7h0M1784.7 1005.7h0M1785.2 1006.7h0M1785.7 1005.7h0M1786.2 1006.7h0M1786.7 1005.7h0M1787.2 1006.7h0M1787.7 1005.7h0M1788.2 1006.7h0M1788.7 1005.7h0M1789.2 1006.7h0M1789.7 1005.7h0M1790.2 1006.7h0M1790.7 1005.7h0M1791.2 1006.7h0M1791.7 1005.7h0M1792.2 1006.7h0M1792.7 1005.7h0M1793.2 1006.7h0M1793.7 1005.7h0M1794.2 1006.7h0M1794.7 1005.7h0M1795.2 1006.7h0M1795.7 1005.7h0M1796.2 1006.7h0M1796.7 1005.7h0M1797.2 1006.7h0M1797.7 1005.7h0M1798.2 1006.7h0M1798.7 1005.7h0M1799.2 1006.7h0M1799.7 1005.7h0M1800.2 1006.7h0M1800.7 1005.7h0M1801.2 1006.7h0M1801.7 1005.7h0M1802.2 1006.7h0M1802.7 1005.7h0M1803.2 1006.7h0M1803.7 1005.7h0M1804.2 1006.7h0M1804.7 1005.7h0M1805.2 1006.7h0M1805.7 1005.7h0M1806.2 1006.7h0M1806.7 1005.7h0M1807.2 1006.7h0M1807.7 1005.7h0M1808.2 1006.7h0M1808.7 1005.7h0M1809.2 1006.7h0M1809.7 1005.7h0M1810.2 1006.7h0M1810.7 1005.7h0M1811.2 1006.7h0M1811.7 1005.7h0M1812.2 1006.7h0M1812.7 1005.7h0M1813.2 1006.7h0M1813.7 1005.7h0M1814.2 1006.7h0M1814.7 1005.7h0M1815.2 1006.7h0M1815.7 1005.7h0M1816.2 1006.7h0M1816.7 1005.7h0M1817.2 1006.7h0M1817.7 1005.7h0M1818.2 1006.7h0M1818.7 1005.7h0M1819.2 1006.7h0M1819.7 1005.7h0M1820.2 1006.7h0M1820.7 1005.7h0M1821.2 1006.7h0M1821.7 1005.7h0M1822.2 1006.7h0M1822.7 1005.7h0M1823.2 1006.7h0M1823.7 1005.7h0M1824.2 1006.7h0M1824.7 1005.7h0M1825.2 1006.7h0M1825.7 1005.7h0M1826.2 1006.7h0M1826.7 1005.7h0M1827.2 1006.7h0M1827.7 1005.7h0M1828.2 1006.7h0M1828.7 1005.7h0M1829.2 1006.7h0M1829.7 1005.7h0M1830.2 1006.7h0M1830.7 1005.7h0M1831.2 1006.7h0M1831.7 1005.7h0M1832.2 1006.7h0M1832.7 1005.7h0M1833.2 1006.7h0M1833.7 1005.7h0M1834.2 1006.7h0M1834.7 1005.7h0M1835.2 1006.7h0M1835.7 1005.7h0M1836.2 1006.7h0M1836.7 1005.7h0M1837.2 1006.7h0M1837.7 1005.7h0M1838.2 1006.7h0M1838.7 1005.7h0M1839.2 1006.7h0M1839.7 1005.7h0M1840.2 1006.7h0M1840.7 1005.7h0M1841.2 1006.7h0M1841.7 1005.7h0M1842.2 1006.7h0M1842.7 1005.7h0M1843.2 1006.7h0M1843.7 1005.7h0M1844.2 1006.7h0M1844.7 1005.7h0M1845.2 1006.7h0M1845.7 1005.7h0M1846.2 1006.7h0M1846.7 1005.7h0M1847.2 1006.7h0M1847.7 1005.7h0M1848.2 1006.7h0M1848.7 1005.7h0M1849.2 1006.7h0M1849.7 1005.7h0M1850.2 1006.7h0M1850.7 1005.7h0M1851.2 1006.7h0M1851.7 1005.7h0M1852.2 1006.7h0M1852.7 1005.7h0M1853.2 1006.7h0M1853.7 1005.7h0M1854.2 1006.7h0M1854.7 1005.7h0M1855.2 1006.7h0M1855.7 1005.7h0M1856.2 1006.7h0M1856.7 1005.7h0M1857.2 1006.7h0M1857.7 1005.7h0M1858.2 1006.7h0M1858.7 1005.7h0M1859.2 1006.7h0M1859.7 1005.7h0M1860.2 1006.7h0M1860.7 1005.7h0M1861.2 1006.7h0M1861.7 1005.7h0M1862.2 1006.7h0M1862.7 1005.7h0M1863.2 1006.7h0M1863.7 1005.7h0M1864.2 1006.7h0M1864.7 1005.7h0M1865.2 1006.7h0M1865.7 1005.7h0M1866.2 1006.7h0M1866.7 1005.7h0M1867.2 1006.7h0M1867.7 1005.7h0M1868.2 1006.7h0M1868.7 1005.7h0M1869.2 1006.7h0M1869.7 1005.7h0M1870.2 1006.7h0M1870.7 1005.7h0M1871.2 1006.7h0M1871.7 1005.7h0M1872.2 1006.7h0M1872.7 1005.7h0M1873.2 1006.7h0M1873.7 1005.7h0M1874.2 1006.7h0M1874.7 1005.7h0M1875.2 1006.7h0M1875.7 1005.7h0M1876.2 1006.7h0M1876.7 1005.7h0M1877.2 1006.7h0M1877.7 1005.7h0M1878.2 1006.7h0M1878.7 1005.7h0M1879.2 1006.7h0M1879.7 1005.7h0M1880.2 1006.7h0M1880.7 1005.7h0M1881.2 1006.7h0M1881.7 1005.7h0M1882.2 1006.7h0M1882.7 1005.7h0M1883.2 1006.7h0M1883.7 1005.7h0M1884.2 1006.7h0M1884.7 1005.7h0M1885.2 1006.7h0M1885.7 1005.7h0M1886.2 1006.7h0M1886.7 1005.7h0M1887.2 1006.7h0M1887.7 1005.7h0M1888.2 1006.7h0M1888.7 1005.7h0M1889.2 1006.7h0M1889.7 1005.7h0M1890.2 1006.7h0M1890.7 1005.7h0M1891.2 1006.7h0M1891.7 1005.7h0M1892.2 1006.7h0M1892.7 1005.7h0M1893.2 1006.7h0M1893.7 1005.7h0M1894.2 1006.7h0M1894.7 1005.7h0M1895.2 1006.7h0M1895.7 1005.6h0M1896.2 1006.6h0M1896.7 1005.6h0M1897.2 1006.6h0M1897.7 1005.6h0M1898.2 1006.6h0M1898.7 1005.6h0M1899.2 1006.6h0M1899.7 1005.6h0M1900.2 1006.6h0M1900.7 1005.6h0M1901.2 1006.6h0M1901.7 1005.6h0M1902.2 1006.6h0M1902.7 1005.6h0M1903.2 1006.6h0M1903.7 1005.6h0M1904.2 1006.6h0M1904.7 1005.6h0M1905.2 1006.6h0M1905.7 1005.6h0M1906.2 1006.6h0M1906.7 1005.6h0M1907.2 1006.6h0M1907.7 1005.6h0M1908.2 1006.6h0M1908.7 1005.6h0M1909.2 1006.6h0M1909.7 1005.6h0M1910.2 1006.6h0M1910.7 1005.6h0M1911.2 1006.6h0M1911.7 1005.6h0M1912.2 1006.6h0M1912.7 1005.6h0M1913.2 1006.6h0M1913.7 1005.6h0M1914.2 1006.6h0M1914.7 1005.6h0M1915.2 1006.6h0M1915.7 1005.6h0M1916.2 1006.6h0M1916.7 1005.6h0M1917.2 1006.6h0M1917.7 1005.6h0M1918.2 1006.6h0M1918.7 1005.6h0M1919.2 1006.6h0M1919.7 1005.6h0M1920.2 1006.6h0M1920.7 1005.6h0M1921.2 1006.6h0M1921.7 1005.6h0M1922.2 1006.6h0M1922.7 1005.6h0M1923.2 1006.6h0M1923.7 1005.6h0M1924.2 1006.6h0M1924.7 1005.6h0M1925.2 1006.6h0M1925.7 1005.6h0M1926.2 1006.6h0M1926.7 1005.6h0M1927.2 1006.6h0M1927.7 1005.6h0M1928.2 1006.6h0M1928.7 1005.6h0M1929.2 1006.6h0M1929.7 1005.6h0M1930.2 1006.6h0M1930.7 1005.6h0M1931.2 1006.6h0M1931.7 1005.6h0M1932.2 1006.6h0M1932.7 1005.6h0M1933.2 1006.6h0M1933.7 1005.6h0M1934.2 1006.6h0M1934.7 1005.6h0M1935.2 1006.6h0M1935.7 1005.6h0M1936.2 1006.6h0M1936.7 1005.6h0M1937.2 1006.6h0M1937.7 1005.6h0M1938.2 1006.6h0M1938.7 1005.6h0M1939.2 1006.6h0M1939.7 1005.6h0M1940.2 1006.6h0M1940.7 1005.6h0M1941.2 1006.6h0M1941.7 1005.6h0M1942.2 1006.6h0M1942.7 1005.6h0M1943.2 1006.6h0M1943.7 1005.6h0M1944.2 1006.6h0M1944.7 1005.6h0M1945.2 1006.6h0M1945.7 1005.6h0M1946.2 1006.6h0M1946.7 1005.6h0M1947.2 1006.6h0M1947.7 1005.6h0M1948.2 1006.6h0M1948.7 1005.6h0M1949.2 1006.6h0M1949.7 1005.6h0M1950.2 1006.6h0M1950.7 1005.6h0M1951.2 1006.6h0M1951.7 1005.6h0M1952.2 1006.6h0M1952.7 1005.6h0M1953.2 1006.6h0M1953.7 1005.6h0M1954.2 1006.6h0M1954.7 1005.6h0M1955.2 1006.6h0M1955.7 1005.6h0M1956.2 1006.6h0M1956.7 1005.6h0M1957.2 1006.6h0M1957.7 1005.6h0M1958.2 1006.6h0M1958.7 1005.6h0M1959.2 1006.6h0M1959.7 1005.6h0M1960.2 1006.6h0M1960.7 1005.6h0M1961.2 1006.6h0M1961.7 1005.6h0M1962.2 1006.6h0M1962.7 1005.6h0M1963.2 1006.6h0M1963.7 1005.6h0M1964.2 1006.6h0M1964.7 1005.6h0M1965.2 1006.6h0M1965.7 1005.6h0M1966.2 1006.6h0M1966.7 1005.6h0M1967.2 1006.6h0M1967.7 1005.6h0M1968.2 1006.6h0M1968.7 1005.6h0M1969.2 1006.6h0M1969.7 1005.6h0M1970.2 1006.6h0M1970.7 1005.6h0M1971.2 1006.6h0M1971.7 1005.6h0M1972.2 1006.6h0M1972.7 1005.6h0M1973.2 1006.6h0M1973.7 1005.6h0M1974.2 1006.6h0M1974.7 1005.6h0M1975.2 1006.6h0M1975.7 1005.6h0M1976.2 1006.6h0M1976.7 1005.6h0M1977.2 1006.6h0M1977.7 1005.6h0M1978.2 1006.6h0M1978.7 1005.6h0M1979.2 1006.6h0M1979.7 1005.6h0M1980.2 1006.6h0M1980.7 1005.6h0M1981.2 1006.6h0M1981.7 1005.6h0M1982.2 1006.6h0M1982.7 1005.6h0M1983.2 1006.6h0M1983.7 1005.6h0M1984.2 1006.6h0M1984.7 1005.6h0M1985.2 1006.6h0M1985.7 1005.6h0M1986.2 1006.6h0M1986.7 1005.6h0M1987.2 1006.6h0M1987.7 1005.6h0M1988.2 1006.6h0M1988.7 1005.6h0M1989.2 1006.6h0M1989.7 1005.6h0M1990.2 1006.6h0M1990.7 1005.6h0M1991.2 1006.6h0M1991.7 1005.6h0M1992.2 1006.6h0M1992.7 1005.6h0M1993.2 1006.6h0M1993.7 1005.6h0M1994.2 1006.6h0M1994.7 1005.6h0M1995.2 1006.6h0M1995.7 1005.6h0M1996.2 1006.6h0M1996.7 1005.6h0M1997.2 1006.6h0M1997.7 1005.6h0M1998.2 1006.6h0M1998.7 1005.6h0M1999.2 1006.6h0M1999.7 1005.6h0M2000.2 1006.6h0M2000.7 1005.6h0M2001.2 1006.6h0M2001.7 1005.6h0M2002.2 1006.6h0M2002.7 1005.6h0M2003.2 1006.6h0M2003.7 1005.6h0M2004.2 1006.6h0M2004.7 1005.6h0M2005.2 1006.6h0M2005.7 1005.6h0M2006.2 1006.6h0M2006.7 1005.6h0M2007.2 1006.6h0M2007.7 1005.6h0M2008.2 1006.6h0M2008.7 1005.6h0M2009.2 1006.6h0M2009.7 1005.6h0M2010.2 1006.6h0M2010.7 1005.6h0M2011.2 1006.6h0M2011.7 1005.5h0M2012.2 1006.5h0M2012.7 1005.5h0M2013.2 1006.5h0M2013.7 1005.5h0M2014.2 1006.5h0M2014.7 1005.5h0M2015.2 1006.5h0M2015.7 1005.5h0M2016.2 1006.5h0M2016.7 1005.5h0M2017.2 1006.5h0M2017.7 1005.5h0M2018.2 1006.5h0M2018.7 1005.5h0M2019.2 1006.5h0M2019.7 1005.5h0M2020.2 1006.5h0M2020.7 1005.5h0M2021.2 1006.5h0M2021.7 1005.5h0M2022.2 1006.5h0M2022.7 1005.5h0M2023.2 1006.5h0M2023.7 1005.5h0M2024.2 1006.5h0M2024.7 1005.5h0M2025.2 1006.5h0M2025.7 1005.5h0M2026.2 1006.5h0M2026.7 1005.5h0M2027.2 1006.5h0M2027.7 1005.5h0M2028.2 1006.5h0M2028.7 1005.5h0M2029.2 1006.5h0M2029.7 1005.5h0M2030.2 1006.5h0M2030.7 1005.5h0M2031.2 1006.5h0M2031.7 1005.5h0M2032.2 1006.5h0M2032.7 1005.5h0M2033.2 1006.5h0M2033.7 1005.5h0M2034.2 1006.5h0M2034.7 1005.5h0M2035.2 1006.5h0M2035.7 1005.5h0M2036.2 1006.5h0M2036.7 1005.5h0M2037.2 1006.5h0M2037.7 1005.5h0M2038.2 1006.5h0M2038.7 1005.5h0M2039.2 1006.5h0M2039.7 1005.5h0M2040.2 1006.5h0M2040.7 1005.5h0M2041.2 1006.5h0M2041.7 1005.5h0M2042.2 1006.5h0M2042.7 1005.5h0M2043.2 1006.5h0M2043.7 1005.5h0M2044.2 1006.5h0M2044.7 1005.5h0M2045.2 1006.5h0M2045.7 1005.5h0M2046.2 1006.5h0M2046.7 1005.5h0M2047.2 1006.5h0M2047.7 1005.5h0M2048.2 1006.5h0M2048.7 1005.5h0M2049.2 1006.5h0M2049.7 1005.5h0M2050.2 1006.5h0M2050.7 1005.5h0M2051.2 1006.5h0M2051.7 1005.5h0M2052.2 1006.5h0M2052.7 1005.5h0M2053.2 1006.5h0M2053.7 1005.5h0M2054.2 1006.5h0M2054.7 1005.5h0M2055.2 1006.5h0M2055.7 1005.5h0M2056.2 1006.5h0M2056.7 1005.5h0M2057.2 1006.5h0M2057.7 1005.5h0M2058.2 1006.5h0M2058.7 1005.5h0M2059.2 1006.5h0M2059.7 1005.5h0M2060.2 1006.5h0M2060.7 1005.5h0M2061.2 1006.5h0M2061.7 1005.5h0M2062.2 1006.5h0M2062.7 1005.5h0M2063.2 1006.5h0M2063.7 1005.5h0M2064.2 1006.5h0M2064.5 1006h0"/>
<path class="m" stroke="#1A6FDF" d="M312.9 959.5h0M444.8 874.6h0M521.9 821.6h0M576.6 833.4h0M619 828.5h0M653.7 821.6h0M683 811.5h0M708.4 810.3h0M730.8 808.3h0M750.8 807.2h0M769 816.5h0M785.5 830.3h0M800.7 839.5h0M814.8 847h0M828 851.7h0M840.2 854.6h0M851.8 858.5h0M862.6 861.4h0M872.9 864h0M882.7 865h0M891.9 865.5h0M900.8 865h0M909.3 863h0M917.3 861.9h0M925.1 861.2h0M932.6 860.6h0M939.7 860.2h0M946.7 859.8h0M953.3 859.3h0M959.8 858.8h0M966 858.2h0M972.1 856.6h0M977.9 853.3h0M983.6 851.4h0M989.1 849.4h0M994.5 847.6h0M999.7 846.3h0M1004.7 845.7h0M1009.7 845.3h0M1014.5 845h0M1019.2 845.4h0M1023.8 845.9h0M1028.2 846.6h0M1032.6 848.1h0M1036.9 849.8h0M1041.1 853h0M1045.2 856h0M1049.2 859h0M1053.1 862h0M1056.9 865h0M1060.7 866.6h0M1064.4 867.8h0M1068 868h0M1071.6 868h0M1075.1 868h0M1078.5 867.9h0M1081.8 867.7h0M1085.2 867.6h0M1088.4 867.4h0M1091.6 867.2h0M1094.7 867h0M1097.8 866.9h0M1100.9 866.7h0M1103.9 866.2h0M1106.8 865.5h0M1109.7 864.8h0M1112.6 864h0M1115.4 863.5h0M1118.2 863.3h0M1120.9 863h0M1123.6 862.8h0M1126.3 862.9h0M1128.9 863h0M1131.5 863.1h0M1134 863.3h0M1136.6 863.6h0M1139 863.8h0M1141.5 864h0M1143.9 864.2h0M1146.3 864.4h0M1148.7 864.7h0M1151 865h0M1153.3 865.3h0M1155.6 865.6h0M1157.8 865.9h0M1160.1 866.2h0M1162.3 867.6h0M1164.4 869h0M1166.6 870.4h0M1168.7 871.8h0M1170.8 873.6h0M1172.9 875.5h0M1174.9 877.7h0M1177 880.1h0M1179 882.5h0M1181 884.9h0M1183 887.3h0M1184.9 889.8h0M1186.8 892.7h0M1188.8 895.5h0M1190.6 898.4h0M1192.5 901.1h0M1194.4 904h0M1196.2 906.5h0M1198 908h0M1199.8 909.5h0M1201.6 910.8h0M1203.4 912h0M1205.1 913h0M1206.9 913.8h0M1208.6 914.4h0M1210.3 915h0M1212 915.4h0M1213.7 915.8h0M1215.3 916.2h0M1217 916.7h0M1218.6 917.2h0M1220.2 917.7h0M1221.8 918.3h0M1223.4 918.9h0M1225 919.5h0M1226.6 920.1h0M1228.1 920.5h0M1229.7 921h0M1231.2 921.4h0M1232.7 922.3h0M1234.2 923.2h0M1235.7 924.1h0M1237.2 925.1h0M1238.6 925.9h0M1240.1 926.8h0M1241.5 927.6h0M1243 928.5h0M1244.4 929.4h0M1245.8 930.2h0M1247.2 931h0M1248.6 931.9h0M1250 933h0M1251.4 934.4h0M1252.7 935.6h0M1254.1 936.6h0M1255.4 937.6h0M1256.8 938.6h0M1258.1 939.6h0M1259.4 941h0M1260.7 942.1h0M1262 942.9h0M1263.3 943.8h0M1264.6 944.6h0M1265.9 945h0M1267.1 959.6h0M1268.4 960.5h0M1269.6 961.1h0M1270.9 961.8h0M1272.1 962.4h0M1273.3 962.9h0M1274.5 963.3h0M1275.7 963.8h0M1276.9 964.2h0M1278.1 964.7h0M1279.3 965.6h0M1280.5 966.5h0M1281.7 967.4h0M1282.8 968.3h0M1284 969.1h0M1285.1 969.7h0M1286.3 970.2h0M1287.4 970.8h0M1288.5 971.3h0M1289.7 971.9h0M1290.8 972.5h0M1291.9 973h0M1293 973.4h0M1294.1 973.6h0M1295.2 973.8h0M1296.3 974h0M1297.3 974.2h0M1298.4 974.3h0M1299.5 974.5h0M1300.5 974.7h0M1301.6 974.9h0M1302.6 975.1h0M1303.7 975.3h0M1304.7 975.6h0M1305.7 976h0M1306.8 976.4h0M1307.8 976.7h0M1308.8 977.2h0M1309.8 977.8h0M1310.8 978.4h0M1311.8 979h0M1312.8 979.6h0M1313.8 980.2h0M1314.8 980.8h0M1315.8 981.4h0M1316.7 982h0M1317.7 982.5h0M1318.7 983.1h0M1319.6 983.7h0M1320.6 984.3h0M1321.5 984.8h0M1322.5 985.4h0M1323.4 985.9h0M1324.3 986.3h0M1325.3 986.8h0M1326.2 987.3h0M1327.1 987.8h0M1328 988.3h0M1328.9 988.9h0M1329.8 989.4h0M1330.8 990h0M1331.7 990.5h0M1332.5 991h0M1333.4 991.6h0M1334.3 992.1h0M1335.2 992.8h0M1336.1 993.4h0M1337 994.1h0M1337.8 994.6h0M1338.7 995h0M1339.6 995.4h0M1340.4 995.8h0M1341.3 996.2h0M1342.1 996.7h0M1343 997.1h0M1343.8 997.5h0M1344.7 998h0M1345.5 998.4h0M1346.3 998.8h0M1347.2 999.2h0M1348 999.6h0M1348.8 1000h0M1349.6 1000.5h0M1350.4 1000.8h0M1351.2 1001.1h0M1352 1001.3h0M1352.9 1001.6h0M1353.7 1001.8h0M1354.5 1002.1h0M1355.2 1002.3h0M1356 1002.5h0M1356.8 1002.7h0M1357.6 1002.8h0M1358.4 1002.9h0M1359.2 1003.1h0M1359.9 1003.2h0M1360.7 1003.3h0M1361.5 1003.5h0M1362.2 1003.7h0M1363 1003.9h0M1363.8 1004.1h0M1364.5 1004.3h0M1365.3 1004.5h0M1366 1004.7h0M1366.8 1004.9h0M1367.5 1005.1h0M1368.3 1005.3h0M1369 1005.5h0M1369.7 1005.8h0M1370.5 1006h0M1371.2 1006.2h0M1371.9 1006.5h0M1372.6 1006.9h0M1373.4 1007.3h0M1374.1 1007.6h0M1374.8 1008h0M1375.5 1008.4h0M1376.2 1008.7h0M1376.9 1009.1h0M1377.6 1009.4h0M1378.3 1009.7h0M1379 1010.1h0M1379.7 1010.4h0M1380.4 1010.8h0M1381.1 1011.4h0M1381.8 1011.9h0M1382.5 1012.5h0M1383.2 1013h0M1383.9 1013.6h0M1384.6 1014.4h0M1385.2 1015.3h0M1385.9 1016.1h0M1386.6 1016.9h0M1387.3 1018h0M1387.9 1019.1h0M1388.6 1020.3h0M1389.3 1021.2h0M1389.9 1021.8h0M1390.6 1022.5h0M1391.2 1023.1h0M1391.9 1023.8h0M1392.5 1024.4h0M1393.2 1024.8h0M1393.8 1025.2h0M1394.5 1025.6h0M1395.1 1026h0M1395.8 1026.4h0M1396.4 1026.7h0M1397 1027.1h0M1397.7 1027.4h0M1398.7 1027.8h0M1399.7 1028.3h0M1400.7 1028.7h0M1401.7 1029h0M1402.7 1029.3h0M1403.7 1029.5h0M1404.7 1029.8h0M1405.7 1030.1h0M1406.7 1030.3h0M1407.7 1030.6h0M1408.7 1030.8h0M1409.7 1031h0M1410.7 1031.3h0M1411.7 1031.5h0M1412.7 1031.8h0M1413.7 1032.1h0M1414.7 1032.4h0M1415.7 1032.7h0M1416.7 1033h0M1417.7 1033.3h0M1418.7 1033.6h0M1419.7 1033.9h0M1420.7 1034.3h0M1421.7 1034.6h0M1422.7 1034.9h0M1423.7 1035.3h0M1424.7 1035.8h0M1425.7 1036.3h0M1426.7 1036.8h0M1427.7 1037.3h0M1428.7 1037.8h0M1429.7 1038.3h0M1430.7 1038.8h0M1431.7 1039.3h0M1432.7 1039.6h0M1433.7 1039.8h0M1434.7 1040.1h0M1435.7 1040.3h0M1436.7 1040.5h0M1437.7 1040.9h0M1438.7 1041.3h0M1439.7 1041.7h0M1440.7 1042.1h0M1441.7 1042.4h0M1442.7 1042.8h0M1443.7 1043.2h0M1444.7 1043.5h0M1445.7 1043.8h0M1446.7 1044.2h0M1447.7 1044.5h0M1448.7 1044.8h0M1449.7 1045.1h0M1450.7 1045.5h0M1451.7 1045.8h0M1452.7 1046h0M1453.7 1046.2h0M1454.7 1046.4h0M1455.7 1046.6h0M1456.7 1046.8h0M1457.7 1046.9h0M1458.7 1047.1h0M1459.7 1047.3h0M1460.7 1047.5h0M1461.7 1047.7h0M1462.7 1047.9h0M1463.7 1048h0M1464.7 1048.1h0M1465.7 1048.2h0M1466.7 1048.3h0M1467.7 1048.3h0M1468.7 1048.4h0M1469.7 1048.5h0M1470.7 1048.6h0M1471.7 1048.7h0M1472.7 1048.7h0M1473.7 1048.8h0M1474.7 1048.9h0M1475.7 1049h0M1476.7 1049.1h0M1477.7 1049.1h0M1478.7 1049.2h0M1479.7 1049.3h0M1480.7 1049.4h0M1481.7 1049.5h0M1482.7 1049.5h0M1483.7 1049.6h0M1484.7 1049.7h0M1485.7 1049.8h0M1486.7 1049.9h0M1487.7 1049.9h0M1488.7 1050h0M1489.7 1050.1h0M1490.7 1050.2h0M1491.7 1050.3h0M1492.7 1050.4h0M1493.7 1050.6h0M1494.7 1050.8h0M1495.7 1051.1h0M1496.7 1051.3h0M1497.7 1051.5h0M1498.7 1051.8h0M1499.7 1052h0M1500.7 1052.2h0M1501.7 1052.6h0M1502.7 1053h0M1503.7 1053.4h0M1504.7 1053.8h0M1505.7 1054.2h0M1506.7 1054.6h0M1507.7 1055h0M1508.7 1055.4h0M1509.7 1056h0M1510.7 1056.5h0M1511.7 1057h0M1512.7 1057.5h0M1513.7 1058h0M1514.7 1058.5h0M1515.7 1059h0M1516.7 1059.6h0M1517.7 1060.1h0M1518.7 1060.6h0M1519.7 1061.1h0M1520.7 1061.6h0M1521.7 1062.1h0M1522.7 1062.6h0M1523.7 1062.7h0M1524.7 1062.8h0M1525.7 1062.9h0M1526.7 1063.1h0M1527.7 1063.2h0M1528.7 1063.3h0M1529.7 1063.4h0M1530.7 1063.5h0M1531.7 1063.6h0M1532.7 1063.7h0M1533.7 1063.8h0M1534.7 1064h0M1535.7 1064.1h0M1536.7 1064.2h0M1537.7 1064.3h0M1538.7 1064.4h0M1539.7 1064.5h0M1540.7 1064.6h0M1541.7 1064.8h0M1542.7 1065.2h0M1543.7 1065.6h0M1544.7 1066h0M1545.7 1066.4h0M1546.7 1066.8h0M1547.7 1067.2h0M1548.7 1067.6h0M1549.7 1068.1h0M1550.7 1068.6h0M1551.7 1069.1h0M1552.7 1069.6h0M1553.7 1070.1h0M1554.7 1070.6h0M1555.7 1071h0M1556.7 1071.4h0M1557.7 1071.8h0M1558.7 1072.2h0M1559.7 1072.6h0M1560.7 1073h0M1561.7 1073.3h0M1562.7 1073.4h0M1563.7 1073.6h0M1564.7 1073.7h0M1565.7 1073.8h0M1566.7 1073.9h0M1567.7 1074.1h0M1568.7 1074.2h0M1569.7 1074.3h0M1570.7 1074.4h0M1571.7 1074.5h0M1572.7 1074.7h0M1573.7 1074.8h0M1574.7 1074.9h0M1575.7 1075h0M1576.7 1075.2h0M1577.7 1075.3h0M1578.7 1075.4h0M1579.7 1075.6h0M1580.7 1075.7h0M1581.7 1075.8h0M1582.7 1076h0M1583.7 1076.1h0M1584.7 1076.2h0M1585.7 1076.3h0M1586.7 1076.5h0M1587.7 1076.6h0M1588.7 1076.7h0M1589.7 1076.8h0M1590.7 1077h0M1591.7 1077.1h0M1592.7 1077.2h0M1593.7 1077.3h0M1594.7 1077.4h0M1595.7 1077.6h0M1596.7 1077.7h0M1597.7 1077.8h0M1598.7 1077.9h0M1599.7 1078.1h0M1600.7 1078.2h0M1601.7 1078.3h0M1602.7 1078.5h0M1603.7 1078.6h0M1604.7 1078.7h0M1605.7 1078.9h0M1606.7 1079h0M1607.7 1079.1h0M1608.7 1079.3h0M1609.7 1079.5h0M1610.7 1079.6h0M1611.7 1079.8h0M1612.7 1080h0M1613.7 1080.2h0M1614.7 1080.3h0M1615.7 1080.5h0M1616.7 1080.7h0M1617.7 1080.9h0M1618.7 1081h0M1619.7 1081.1h0M1620.7 1081.2h0M1621.7 1081.3h0M1622.7 1081.3h0M1623.7 1081.4h0M1624.7 1081.5h0M1625.7 1081.6h0M1626.7 1081.6h0M1627.7 1081.7h0M1628.7 1081.8h0M1629.7 1081.8h0M1630.7 1081.9h0M1631.7 1082.3h0M1632.7 1082.7h0M1633.7 1083.1h0M1634.7 1083.5h0M1635.7 1083.9h0M1636.7 1084.3h0M1637.7 1084.8h0M1638.7 1084.8h0M1639.7 1084.8h0M1640.7 1084.9h0M1641.7 1084.9h0M1642.7 1084.9h0M1643.7 1084.9h0M1644.7 1085h0M1645.7 1085h0M1646.7 1085h0M1647.7 1085h0M1648.7 1085.1h0M1649.7 1085.1h0M1650.7 1085.1h0M1651.7 1085.1h0M1652.7 1085.1h0M1653.7 1085.2h0M1654.7 1085.2h0M1655.7 1085.2h0M1656.7 1085.2h0M1657.7 1085.3h0M1658.7 1085.3h0M1659.7 1085.3h0M1660.7 1085.3h0M1661.7 1085.4h0M1662.7 1085.4h0M1663.7 1085.4h0M1664.7 1085.4h0M1665.7 1085.4h0M1666.7 1085.5h0M1667.7 1085.5h0M1668.7 1085.5h0M1669.7 1085.5h0M1670.7 1085.6h0M1671.7 1085.6h0M1672.7 1085.6h0M1673.7 1085.6h0M1674.7 1085.7h0M1675.7 1085.7h0M1676.7 1085.7h0M1677.7 1085.7h0M1678.7 1085.7h0M1679.7 1085.6h0M1680.7 1085.6h0M1681.7 1085.6h0M1682.7 1085.6h0M1683.7 1085.6h0M1684.7 1085.5h0M1685.7 1085.5h0M1686.7 1085.5h0M1687.7 1085.5h0M1688.7 1085.4h0M1689.7 1085.4h0M1690.7 1083.8h0M1691.2 1087h0M1691.7 1083.8h0M1692.2 1087h0M1692.7 1083.8h0M1693.2 1087h0M1693.7 1083.7h0M1694.2 1086.9h0M1694.7 1083.7h0M1695.2 1086.9h0M1695.7 1083.7h0M1696.2 1086.9h0M1696.7 1083.7h0M1697.2 1086.9h0M1697.7 1083.6h0M1698.2 1086.8h0M1698.7 1083.6h0M1699.2 1086.8h0M1699.7 1083.6h0M1700.2 1086.8h0M1700.7 1083.6h0M1701.2 1086.8h0M1701.7 1083.6h0M1702.2 1086.8h0M1702.7 1083.6h0M1703.2 1086.8h0M1703.7 1083.6h0M1704.2 1086.8h0M1704.7 1083.6h0M1705.2 1086.8h0M1705.7 1083.6h0M1706.2 1086.8h0M1706.7 1083.6h0M1707.2 1086.8h0M1707.7 1083.6h0M1708.2 1086.8h0M1708.7 1083.6h0M1709.2 1086.8h0M1709.7 1083.6h0M1710.2 1086.8h0M1710.7 1083.6h0M1711.2 1086.8h0M1711.7 1083.6h0M1712.2 1086.8h0M1712.7 1083.6h0M1713.2 1086.8h0M1713.7 1083.6h0M1714.2 1086.8h0M1714.7 1083.6h0M1715.2 1086.8h0M1715.7 1083.6h0M1716.2 1086.8h0M1716.7 1083.6h0M1717.2 1086.8h0M1717.7 1083.6h0M1718.2 1086.8h0M1718.7 1083.6h0M1719.2 1086.8h0M1719.7 1083.6h0M1720.2 1086.8h0M1720.7 1083.6h0M1721.2 1086.8h0M1721.7 1083.6h0M1722.2 1086.8h0M1722.7 1083.6h0M1723.2 1086.8h0M1723.7 1083.6h0M1724.2 1086.8h0M1724.7 1083.6h0M1725.2 1086.8h0M1725.7 1083.6h0M1726.2 1086.8h0M1726.7 1083.6h0M1727.2 1086.8h0M1727.7 1083.6h0M1728.2 1086.8h0M1728.7 1083.6h0M1729.2 1086.8h0M1729.7 1083.6h0M1730.2 1086.8h0M1730.7 1083.6h0M1731.2 1086.8h0M1731.7 1083.6h0M1732.2 1086.8h0M1732.7 1083.6h0M1733.2 1086.8h0M1733.7 1083.6h0M1734.2 1086.8h0M1734.7 1083.6h0M1735.2 1086.8h0M1735.7 1083.6h0M1736.2 1086.8h0M1736.7 1083.6h0M1737.2 1086.8h0M1737.7 1083.6h0M1738.2 1086.8h0M1738.7 1083.6h0M1739.2 1086.8h0M1739.7 1083.6h0M1740.2 1086.8h0M1740.7 1083.6h0M1741.2 1086.8h0M1741.7 1083.6h0M1742.2 1086.8h0M1742.7 1083.6h0M1743.2 1086.8h0M1743.7 1083.6h0M1744.2 1086.8h0M1744.7 1083.6h0M1745.2 1086.8h0M1745.7 1083.6h0M1746.2 1086.8h0M1746.7 1083.6h0M1747.2 1086.8h0M1747.7 1083.6h0M1748.2 1086.8h0M1748.7 1083.6h0M1749.2 1086.8h0M1749.7 1083.6h0M1750.2 1086.8h0M1750.7 1083.6h0M1751.2 1086.8h0M1751.7 1083.6h0M1752.2 1086.8h0M1752.7 1083.6h0M1753.2 1086.8h0M1753.7 1083.6h0M1754.2 1086.8h0M1754.7 1083.6h0M1755.2 1086.8h0M1755.7 1083.6h0M1756.2 1086.8h0M1756.7 1083.6h0M1757.2 1086.8h0M1757.7 1083.6h0M1758.2 1086.8h0M1758.7 1083.6h0M1759.2 1086.8h0M1759.7 1083.6h0M1760.2 1086.8h0M1760.7 1083.6h0M1761.2 1086.8h0M1761.7 1083.6h0M1762.2 1086.8h0M1762.7 1083.6h0M1763.2 1086.8h0M1763.7 1083.6h0M1764.2 1086.8h0M1764.7 1083.6h0M1765.2 1086.8h0M1765.7 1083.6h0M1766.2 1086.8h0M1766.7 1083.6h0M1767.2 1086.8h0M1767.7 1083.6h0M1768.2 1086.8h0M1768.7 1083.6h0M1769.2 1086.8h0M1769.7 1083.6h0M1770.2 1086.8h0M1770.7 1083.6h0M1771.2 1086.8h0M1771.7 1083.6h0M1772.2 1086.8h0M1772.7 1083.6h0M1773.2 1086.8h0M1773.7 1083.6h0M1774.2 1086.8h0M1774.7 1083.6h0M1775.2 1086.8h0M1775.7 1083.6h0M1776.2 1086.8h0M1776.7 1083.6h0M1777.2 1086.8h0M1777.7 1083.6h0M1778.2 1086.8h0M1778.7 1083.6h0M1779.2 1086.8h0M1779.7 1083.6h0M1780.2 1086.8h0M1780.7 1083.6h0M1781.2 1086.8h0M1781.7 1083.6h0M1782.2 1086.8h0M1782.7 1083.6h0M1783.2 1086.8h0M1783.7 1083.6h0M1784.2 1086.8h0M1784.7 1083.6h0M1785.2 1086.8h0M1785.7 1083.6h0M1786.2 1086.8h0M1786.7 1083.6h0M1787.2 1086.8h0M1787.7 1083.6h0M1788.2 1086.8h0M1788.7 1083.6h0M1789.2 1086.8h0M1789.7 1083.6h0M1790.2 1086.8h0M1790.7 1083.6h0M1791.2 1086.8h0M1791.7 1083.6h0M1792.2 1086.8h0M1792.7 1083.6h0M1793.2 1086.8h0M1793.7 1083.6h0M1794.2 1086.8h0M1794.7 1083.6h0M1795.2 1086.8h0M1795.7 1083.6h0M1796.2 1086.8h0M1796.7 1083.6h0M1797.2 1086.8h0M1797.7 1083.6h0M1798.2 1086.8h0M1798.7 1083.6h0M1799.2 1086.8h0M1799.7 1083.6h0M1800.2 1086.8h0M1800.7 1083.6h0M1801.2 1086.8h0M1801.7 1083.6h0M1802.2 1086.8h0M1802.7 1083.6h0M1803.2 1086.8h0M1803.7 1083.6h0M1804.2 1086.8h0M1804.7 1083.6h0M1805.2 1086.8h0M1805.7 1083.6h0M1806.2 1086.8h0M1806.7 1083.6h0M1807.2 1086.8h0M1807.7 1083.6h0M1808.2 1086.8h0M1808.7 1083.6h0M1809.2 1086.8h0M1809.7 1083.6h0M1810.2 1086.8h0M1810.7 1083.6h0M1811.2 1086.8h0M1811.7 1083.6h0M1812.2 1086.8h0M1812.7 1083.6h0M1813.2 1086.8h0M1813.7 1083.6h0M1814.2 1086.8h0M1814.7 1083.6h0M1815.2 1086.8h0M1815.7 1083.6h0M1816.2 1086.8h0M1816.7 1083.6h0M1817.2 1086.8h0M1817.7 1083.6h0M1818.2 1086.8h0M1818.7 1083.6h0M1819.2 1086.8h0M1819.7 1083.6h0M1820.2 1086.8h0M1820.7 1083.6h0M1821.2 1086.8h0M1821.7 1083.6h0M1822.2 1086.8h0M1822.7 1083.6h0M1823.2 1086.8h0M1823.7 1083.6h0M1824.2 1086.8h0M1824.7 1083.6h0M1825.2 1086.8h0M1825.7 1083.6h0M1826.2 1086.8h0M1826.7 1083.6h0M1827.2 1086.8h0M1827.7 1083.6h0M1828.2 1086.8h0M1828.7 1083.6h0M1829.2 1086.8h0M1829.7 1083.6h0M1830.2 1086.8h0M1830.7 1083.6h0M1831.2 1086.8h0M1831.7 1083.6h0M1832.2 1086.8h0M1832.7 1083.6h0M1833.2 1086.8h0M1833.7 1083.6h0M1834.2 1086.8h0M1834.7 1083.6h0M1835.2 1086.8h0M1835.7 1083.6h0M1836.2 1086.8h0M1836.7 1083.6h0M1837.2 1086.8h0M1837.7 1083.6h0M1838.2 1086.8h0M1838.7 1083.6h0M1839.2 1086.8h0M1839.7 1083.6h0M1840.2 1086.8h0M1840.7 1083.6h0M1841.2 1086.8h0M1841.7 1083.6h0M1842.2 1086.8h0M1842.7 1083.6h0M1843.2 1086.8h0M1843.7 1083.6h0M1844.2 1086.8h0M1844.7 1083.6h0M1845.2 1086.8h0M1845.7 1083.6h0M1846.2 1086.8h0M1846.7 1083.6h0M1847.2 1086.8h0M1847.7 1083.6h0M1848.2 1086.8h0M1848.7 1083.6h0M1849.2 1086.8h0M1849.7 1083.6h0M1850.2 1086.8h0M1850.7 1083.6h0M1851.2 1086.8h0M1851.7 1083.6h0M1852.2 1086.8h0M1852.7 1083.6h0M1853.2 1086.8h0M1853.7 1083.6h0M1854.2 1086.8h0M1854.7 1083.6h0M1855.2 1086.8h0M1855.7 1083.6h0M1856.2 1086.8h0M1856.7 1083.6h0M1857.2 1086.8h0M1857.7 1083.6h0M1858.2 1086.8h0M1858.7 1083.6h0M1859.2 1086.8h0M1859.7 1083.6h0M1860.2 1086.8h0M1860.7 1083.6h0M1861.2 1086.8h0M1861.7 1083.6h0M1862.2 1086.8h0M1862.7 1083.6h0M1863.2 1086.8h0M1863.7 1083.6h0M1864.2 1086.8h0M1864.7 1083.6h0M1865.2 1086.8h0M1865.7 1083.6h0M1866.2 1086.8h0M1866.7 1083.6h0M1867.2 1086.8h0M1867.7 1083.6h0M1868.2 1086.8h0M1868.7 1083.6h0M1869.2 1086.8h0M1869.7 1083.6h0M1870.2 1086.8h0M1870.7 1083.6h0M1871.2 1086.8h0M1871.7 1083.6h0M1872.2 1086.8h0M1872.7 1083.6h0M1873.2 1086.8h0M1873.7 1083.6h0M1874.2 1086.8h0M1874.7 1083.6h0M1875.2 1086.8h0M1875.7 1083.6h0M1876.2 1086.8h0M1876.7 1083.6h0M1877.2 1086.8h0M1877.7 1083.6h0M1878.2 1086.8h0M1878.7 1083.6h0M1879.2 1086.8h0M1879.7 1083.6h0M1880.2 1086.8h0M1880.7 1083.6h0M1881.2 1086.8h0M1881.7 1083.6h0M1882.2 1086.8h0M1882.7 1083.6h0M1883.2 1086.8h0M1883.7 1083.6h0M1884.2 1086.8h0M1884.7 1083.6h0M1885.2 1086.8h0M1885.7 1083.6h0M1886.2 1086.8h0M1886.7 1083.6h0M1887.2 1086.8h0M1887.7 1083.6h0M1888.2 1086.8h0M1888.7 1083.6h0M1889.2 1086.8h0M1889.7 1083.6h0M1890.2 1086.8h0M1890.7 1083.6h0M1891.2 1086.8h0M1891.7 1083.6h0M1892.2 1086.8h0M1892.7 1083.6h0M1893.2 1086.8h0M1893.7 1083.6h0M1894.2 1086.8h0M1894.7 1083.6h0M1895.2 1086.8h0M1895.7 1083.6h0M1896.2 1086.8h0M1896.7 1083.6h0M1897.2 1086.8h0M1897.7 1083.6h0M1898.2 1086.8h0M1898.7 1083.6h0M1899.2 1086.8h0M1899.7 1083.6h0M1900.2 1086.8h0M1900.7 1083.6h0M1901.2 1086.8h0M1901.7 1083.6h0M1902.2 1086.8h0M1902.7 1083.6h0M1903.2 1086.8h0M1903.7 1083.6h0M1904.2 1086.8h0M1904.7 1083.6h0M1905.2 1086.8h0M1905.7 1083.6h0M1906.2 1086.8h0M1906.7 1083.6h0M1907.2 1086.8h0M1907.7 1083.6h0M1908.2 1086.8h0M1908.7 1083.6h0M1909.2 1086.8h0M1909.7 1083.6h0M1910.2 1086.8h0M1910.7 1083.6h0M1911.2 1086.8h0M1911.7 1083.6h0M1912.2 1086.8h0M1912.7 1083.6h0M1913.2 1086.8h0M1913.7 1083.6h0M1914.2 1086.8h0M1914.7 1083.6h0M1915.2 1086.8h0M1915.7 1083.6h0M1916.2 1086.8h0M1916.7 1083.6h0M1917.2 1086.8h0M1917.7 1083.6h0M1918.2 1086.8h0M1918.7 1083.6h0M1919.2 1086.8h0M1919.7 1083.6h0M1920.2 1086.8h0M1920.7 1083.6h0M1921.2 1086.8h0M1921.7 1083.6h0M1922.2 1086.8h0M1922.7 1083.6h0M1923.2 1086.8h0M1923.7 1083.6h0M1924.2 1086.8h0M1924.7 1083.6h0M1925.2 1086.8h0M1925.7 1083.6h0M1926.2 1086.8h0M1926.7 1083.6h0M1927.2 1086.8h0M1927.7 1083.6h0M1928.2 1086.8h0M1928.7 1083.6h0M1929.2 1086.8h0M1929.7 1083.6h0M1930.2 1086.8h0M1930.7 1083.6h0M1931.2 1086.8h0M1931.7 1083.6h0M1932.2 1086.8h0M1932.7 1083.6h0M1933.2 1086.8h0M1933.7 1083.6h0M1934.2 1086.8h0M1934.7 1083.6h0M1935.2 1086.8h0M1935.7 1083.6h0M1936.2 1086.8h0M1936.7 1083.6h0M1937.2 1086.8h0M1937.7 1083.6h0M1938.2 1086.8h0M1938.7 1083.6h0M1939.2 1086.8h0M1939.7 1083.6h0M1940.2 1086.8h0M1940.7 1083.6h0M1941.2 1086.8h0M1941.7 1083.6h0M1942.2 1086.8h0M1942.7 1083.6h0M1943.2 1086.8h0M1943.7 1083.6h0M1944.2 1086.8h0M1944.7 1083.6h0M1945.2 1086.8h0M1945.7 1083.6h0M1946.2 1086.8h0M1946.7 1083.6h0M1947.2 1086.8h0M1947.7 1083.6h0M1948.2 1086.8h0M1948.7 1083.6h0M1949.2 1086.8h0M1949.7 1083.6h0M1950.2 1086.8h0M1950.7 1083.6h0M1951.2 1086.8h0M1951.7 1083.6h0M1952.2 1086.8h0M1952.7 1083.6h0M1953.2 1086.8h0M1953.7 1083.6h0M1954.2 1086.8h0M1954.7 1083.6h0M1955.2 1086.8h0M1955.7 1083.6h0M1956.2 1086.8h0M1956.7 1083.6h0M1957.2 1086.8h0M1957.7 1083.6h0M1958.2 1086.8h0M1958.7 1083.6h0M1959.2 1086.8h0M1959.7 1083.6h0M1960.2 1086.8h0M1960.7 1083.6h0M1961.2 1086.8h0M1961.7 1083.6h0M1962.2 1086.8h0M1962.7 1083.6h0M1963.2 1086.8h0M1963.7 1083.6h0M1964.2 1086.8h0M1964.7 1083.6h0M1965.2 1086.8h0M1965.7 1083.6h0M1966.2 1086.8h0M1966.7 1083.6h0M1967.2 1086.8h0M1967.7 1083.6h0M1968.2 1086.8h0M1968.7 1083.6h0M1969.2 1086.8h0M1969.7 1083.6h0M1970.2 1086.8h0M1970.7 1083.6h0M1971.2 1086.8h0M1971.7 1083.6h0M1972.2 1086.8h0M1972.7 1083.6h0M1973.2 1086.8h0M1973.7 1083.6h0M1974.2 1086.8h0M1974.7 1083.6h0M1975.2 1086.8h0M1975.7 1083.6h0M1976.2 1086.8h0M1976.7 1083.6h0M1977.2 1086.8h0M1977.7 1083.6h0M1978.2 1086.8h0M1978.7 1083.6h0M1979.2 1086.8h0M1979.7 1083.6h0M1980.2 1086.8h0M1980.7 1083.6h0M1981.2 1086.8h0M1981.7 1083.6h0M1982.2 1086.8h0M1982.7 1083.6h0M1983.2 1086.8h0M1983.7 1083.6h0M1984.2 1086.8h0M1984.7 1083.6h0M1985.2 1086.8h0M1985.7 1083.6h0M1986.2 1086.8h0M1986.7 1083.6h0M1987.2 1086.8h0M1987.7 1083.6h0M1988.2 1086.8h0M1988.7 1083.6h0M1989.2 1086.8h0M1989.7 1083.6h0M1990.2 1086.8h0M1990.7 1083.6h0M1991.2 1086.8h0M1991.7 1083.6h0M1992.2 1086.8h0M1992.7 1083.6h0M1993.2 1086.8h0M1993.7 1083.6h0M1994.2 1086.8h0M1994.7 1083.6h0M1995.2 1086.8h0M1995.7 1083.6h0M1996.2 1086.8h0M1996.7 1083.6h0M1997.2 1086.8h0M1997.7 1083.6h0M1998.2 1086.8h0M1998.7 1083.6h0M1999.2 1086.8h0M1999.7 1083.6h0M2000.2 1086.8h0M2000.7 1083.6h0M2001.2 1086.8h0M2001.7 1083.6h0M2002.2 1086.8h0M2002.7 1083.6h0M2003.2 1086.8h0M2003.7 1083.6h0M2004.2 1086.8h0M2004.7 1083.6h0M2005.2 1086.8h0M2005.7 1083.6h0M2006.2 1086.8h0M2006.7 1083.6h0M2007.2 1086.8h0M2007.7 1083.6h0M2008.2 1086.8h0M2008.7 1083.6h0M2009.2 1086.8h0M2009.7 1083.6h0M2010.2 1086.8h0M2010.7 1083.6h0M2011.2 1086.8h0M2011.7 1083.6h0M2012.2 1086.8h0M2012.7 1083.6h0M2013.2 1086.8h0M2013.7 1083.6h0M2014.2 1086.8h0M2014.7 1083.6h0M2015.2 1086.8h0M2015.7 1083.6h0M2016.2 1086.8h0M2016.7 1083.6h0M2017.2 1086.8h0M2017.7 1083.6h0M2018.2 1086.8h0M2018.7 1083.6h0M2019.2 1086.8h0M2019.7 1083.6h0M2020.2 1086.8h0M2020.7 1083.6h0M2021.2 1086.8h0M2021.7 1083.6h0M2022.2 1086.8h0M2022.7 1083.6h0M2023.2 1086.8h0M2023.7 1083.6h0M2024.2 1086.8h0M2024.7 1083.6h0M2025.2 1086.8h0M2025.7 1083.6h0M2026.2 1086.8h0M2026.7 1083.6h0M2027.2 1086.8h0M2027.7 1083.6h0M2028.2 1086.8h0M2028.7 1083.6h0M2029.2 1086.8h0M2029.7 1083.6h0M2030.2 1086.8h0M2030.7 1083.6h0M2031.2 1086.8h0M2031.7 1083.6h0M2032.2 1086.8h0M2032.7 1083.6h0M2033.2 1086.8h0M2033.7 1083.6h0M2034.2 1086.8h0M2034.7 1083.6h0M2035.2 1086.8h0M2035.7 1083.6h0M2036.2 1086.8h0M2036.7 1083.6h0M2037.2 1086.8h0M2037.7 1083.6h0M2038.2 1086.8h0M2038.7 1083.6h0M2039.2 1086.8h0M2039.7 1083.6h0M2040.2 1086.8h0M2040.7 1083.6h0M2041.2 1086.8h0M2041.7 1083.6h0M2042.2 1086.8h0M2042.7 1083.6h0M2043.2 1086.8h0M2043.7 1083.6h0M2044.2 1086.8h0M2044.7 1083.6h0M2045.2 1086.8h0M2045.7 1083.6h0M2046.2 1086.8h0M2046.7 1083.6h0M2047.2 1086.8h0M2047.7 1083.6h0M2048.2 1086.8h0M2048.7 1083.6h0M2049.2 1086.8h0M2049.7 1083.6h0M2050.2 1086.8h0M2050.7 1083.6h0M2051.2 1086.8h0M2051.7 1083.6h0M2052.2 1086.8h0M2052.7 1083.6h0M2053.2 1086.8h0M2053.7 1083.6h0M2054.2 1086.8h0M2054.7 1083.6h0M2055.2 1086.8h0M2055.7 1083.6h0M2056.2 1086.8h0M2056.7 1083.6h0M2057.2 1086.8h0M2057.7 1083.6h0M2058.2 1086.8h0M2058.7 1083.6h0M2059.2 1086.8h0M2059.7 1083.6h0M2060.2 1086.8h0M2060.7 1083.6h0M2061.2 1086.8h0M2061.7 1083.6h0M2062.2 1086.8h0M2062.7 1083.6h0M2063.2 1086.8h0M2063.7 1083.6h0M2064.2 1086.8h0M2064.5 1085.2h0"/>
<path class="m" stroke="#37AD6B" d="M312.9 996.7h0M444.8 991.8h0M521.9 952.6h0M576.6 898.5h0M619 882.6h0M653.7 905.4h0M683 937.4h0M708.4 951.3h0M730.8 948.6h0M750.8 949.4h0M769 949.4h0M785.5 949.4h0M800.7 945.5h0M814.8 942.5h0M828 940.5h0M840.2 933.8h0M851.8 918.9h0M862.6 911.7h0M872.9 913.1h0M882.7 916.8h0M891.9 918.8h0M900.8 922.6h0M909.3 928.3h0M917.3 935.5h0M925.1 941.9h0M932.6 949.1h0M939.7 953.4h0M946.7 956.3h0M953.3 959.1h0M959.8 961.5h0M966 963.3h0M972.1 963.3h0M977.9 963.3h0M983.6 963.3h0M989.1 963.3h0M994.5 963.3h0M999.7 963.3h0M1004.7 963.3h0M1009.7 963.3h0M1014.5 963.3h0M1019.2 963.3h0M1023.8 963.3h0M1028.2 963.3h0M1032.6 963.3h0M1036.9 963.3h0M1041.1 963.3h0M1045.2 963.3h0M1049.2 963.3h0M1053.1 963.3h0M1056.9 962.5h0M1060.7 960.9h0M1064.4 959.7h0M1068 958.5h0M1071.6 955.6h0M1075.1 952.8h0M1078.5 949.4h0M1081.8 945.7h0M1085.2 941.2h0M1088.4 936.9h0M1091.6 932h0M1094.7 927h0M1097.8 922.9h0M1100.9 919.8h0M1103.9 917.7h0M1106.8 916.8h0M1109.7 916.8h0M1112.6 916.8h0M1115.4 916.8h0M1118.2 916.8h0M1120.9 916.8h0M1123.6 917.2h0M1126.3 918.1h0M1128.9 919.3h0M1131.5 921.6h0M1134 923.8h0M1136.6 925.9h0M1139 927.6h0M1141.5 929.1h0M1143.9 930.4h0M1146.3 931.5h0M1148.7 932.7h0M1151 933.9h0M1153.3 935h0M1155.6 936h0M1157.8 936.7h0M1160.1 937.5h0M1162.3 937.7h0M1164.4 937.8h0M1166.6 938h0M1168.7 938.1h0M1170.8 938.2h0M1172.9 938.4h0M1174.9 938.9h0M1177 939.4h0M1179 939.9h0M1181 940.4h0M1183 940.7h0M1184.9 942.1h0M1186.8 943.6h0M1188.8 945.2h0M1190.6 946.8h0M1192.5 948.4h0M1194.4 950h0M1196.2 951.5h0M1198 953.2h0M1199.8 955.3h0M1201.6 957.4h0M1203.4 959.3h0M1205.1 961h0M1206.9 962.9h0M1208.6 964.9h0M1210.3 966.9h0M1212 968.3h0M1213.7 969.7h0M1215.3 971h0M1217 972.1h0M1218.6 973.2h0M1220.2 974.3h0M1221.8 975.4h0M1223.4 976.5h0M1225 977.3h0M1226.6 978.1h0M1228.1 978.9h0M1229.7 979.6h0M1231.2 980.2h0M1232.7 980.7h0M1234.2 981.3h0M1235.7 981.8h0M1237.2 982.1h0M1238.6 982.5h0M1240.1 982.9h0M1241.5 983.3h0M1243 983.9h0M1244.4 984.4h0M1245.8 984.9h0M1247.2 985.4h0M1248.6 985.9h0M1250 986.4h0M1251.4 986.8h0M1252.7 987.2h0M1254.1 987.6h0M1255.4 988h0M1256.8 988.4h0M1258.1 988.9h0M1259.4 989.3h0M1260.7 989.7h0M1262 990.1h0M1263.3 990.5h0M1264.6 990.8h0M1265.9 991.1h0M1267.1 991.4h0M1268.4 991.7h0M1269.6 992h0M1270.9 992.3h0M1272.1 992.8h0M1273.3 993.2h0M1274.5 993.7h0M1275.7 994.2h0M1276.9 994.6h0M1278.1 995.1h0M1279.3 995.5h0M1280.5 996h0M1281.7 996.4h0M1282.8 996.9h0M1284 997.8h0M1285.1 998.6h0M1286.3 999.5h0M1287.4 1000.4h0M1288.5 1001.2h0M1289.7 1001.7h0M1290.8 1002.3h0M1291.9 1002.8h0M1293 1003.4h0M1294.1 1004.1h0M1295.2 1004.8h0M1296.3 1005.5h0M1297.3 1006.2h0M1298.4 1006.8h0M1299.5 1007.3h0M1300.5 1007.9h0M1301.6 1008.4h0M1302.6 1009.1h0M1303.7 1009.8h0M1304.7 1010.5h0M1305.7 1011.2h0M1306.8 1011.7h0M1307.8 1012.2h0M1308.8 1012.7h0M1309.8 1013.2h0M1310.8 1013.7h0M1311.8 1014.2h0M1312.8 1014.7h0M1313.8 1015.2h0M1314.8 1015.7h0M1315.8 1016.1h0M1316.7 1016.4h0M1317.7 1016.8h0M1318.7 1017.2h0M1319.6 1017.5h0M1320.6 1017.9h0M1321.5 1018.2h0M1322.5 1018.6h0M1323.4 1018.9h0M1324.3 1019.2h0M1325.3 1019.6h0M1326.2 1019.9h0M1327.1 1020.3h0M1328 1020.6h0M1328.9 1021h0M1329.8 1021.3h0M1330.8 1021.7h0M1331.7 1022h0M1332.5 1022.3h0M1333.4 1022.7h0M1334.3 1023h0M1335.2 1023.3h0M1336.1 1023.6h0M1337 1023.9h0M1337.8 1024.2h0M1338.7 1024.4h0M1339.6 1024.5h0M1340.4 1024.7h0M1341.3 1024.9h0M1342.1 1025.1h0M1343 1025.3h0M1343.8 1025.4h0M1344.7 1025.6h0M1345.5 1026.2h0M1346.3 1026.7h0M1347.2 1027.2h0M1348 1027.7h0M1348.8 1028.3h0M1349.6 1028.8h0M1350.4 1029.3h0M1351.2 1029.8h0M1352 1030.4h0M1352.9 1030.9h0M1353.7 1031.4h0M1354.5 1031.9h0M1355.2 1032.5h0M1356 1033h0M1356.8 1033.5h0M1357.6 1034h0M1358.4 1034.5h0M1359.2 1035h0M1359.9 1035.3h0M1360.7 1035.6h0M1361.5 1035.9h0M1362.2 1036.2h0M1363 1036.4h0M1363.8 1036.7h0M1364.5 1037h0M1365.3 1037.4h0M1366 1037.8h0M1366.8 1038.1h0M1367.5 1038.5h0M1368.3 1038.9h0M1369 1039.2h0M1369.7 1039.4h0M1370.5 1039.5h0M1371.2 1039.6h0M1371.9 1039.7h0M1372.6 1039.8h0M1373.4 1039.9h0M1374.1 1040h0M1374.8 1040.1h0M1375.5 1040.2h0M1376.2 1040.3h0M1376.9 1040.4h0M1377.6 1040.5h0M1378.3 1040.6h0M1379 1040.7h0M1379.7 1040.8h0M1380.4 1040.9h0M1381.1 1041h0M1381.8 1041.1h0M1382.5 1041.2h0M1383.2 1041.3h0M1383.9 1041.4h0M1384.6 1041.5h0M1385.2 1041.6h0M1385.9 1041.6h0M1386.6 1041.7h0M1387.3 1041.8h0M1387.9 1041.9h0M1388.6 1042h0M1389.3 1042.1h0M1389.9 1042.3h0M1390.6 1042.5h0M1391.2 1042.6h0M1391.9 1042.8h0M1392.5 1043h0M1393.2 1043.1h0M1393.8 1043.3h0M1394.5 1043.5h0M1395.1 1043.6h0M1395.8 1043.8h0M1396.4 1043.9h0M1397 1044.1h0M1397.7 1044.2h0M1398.7 1044.5h0M1399.7 1044.7h0M1400.7 1045h0M1401.7 1045.5h0M1402.7 1046h0M1403.7 1046.5h0M1404.7 1047h0M1405.7 1047.5h0M1406.7 1048h0M1407.7 1048.5h0M1408.7 1048.9h0M1409.7 1049.4h0M1410.7 1049.8h0M1411.7 1050.2h0M1412.7 1050.5h0M1413.7 1050.9h0M1414.7 1051.3h0M1415.7 1051.6h0M1416.7 1052h0M1417.7 1052.3h0M1418.7 1052.6h0M1419.7 1052.9h0M1420.7 1053.2h0M1421.7 1053.5h0M1422.7 1053.8h0M1423.7 1054h0M1424.7 1054.3h0M1425.7 1054.5h0M1426.7 1054.8h0M1427.7 1055h0M1428.7 1055.2h0M1429.7 1055.4h0M1430.7 1055.5h0M1431.7 1055.7h0M1432.7 1055.8h0M1433.7 1056h0M1434.7 1056.2h0M1435.7 1056.3h0M1436.7 1056.5h0M1437.7 1056.7h0M1438.7 1056.8h0M1439.7 1057h0M1440.7 1057.2h0M1441.7 1057.4h0M1442.7 1057.5h0M1443.7 1057.7h0M1444.7 1057.9h0M1445.7 1058h0M1446.7 1058.2h0M1447.7 1058.4h0M1448.7 1058.5h0M1449.7 1058.7h0M1450.7 1058.9h0M1451.7 1059h0M1452.7 1059.2h0M1453.7 1059.3h0M1454.7 1059.7h0M1455.7 1060.2h0M1456.7 1060.6h0M1457.7 1061.1h0M1458.7 1061.6h0M1459.7 1062.2h0M1460.7 1062.9h0M1461.7 1063.6h0M1462.7 1064.4h0M1463.7 1065.1h0M1464.7 1065.9h0M1465.7 1066.4h0M1466.7 1067h0M1467.7 1067.5h0M1468.7 1068h0M1469.7 1068.5h0M1470.7 1069h0M1471.7 1069.1h0M1472.7 1069.1h0M1473.7 1069.2h0M1474.7 1069.3h0M1475.7 1069.3h0M1476.7 1069.4h0M1477.7 1069.5h0M1478.7 1069.5h0M1479.7 1069.6h0M1480.7 1069.6h0M1481.7 1069.7h0M1482.7 1069.8h0M1483.7 1069.8h0M1484.7 1069.9h0M1485.7 1070h0M1486.7 1070h0M1487.7 1070.1h0M1488.7 1070.2h0M1489.7 1070.2h0M1490.7 1070.3h0M1491.7 1070.4h0M1492.7 1070.4h0M1493.7 1070.5h0M1494.7 1070.6h0M1495.7 1070.8h0M1496.7 1070.9h0M1497.7 1071h0M1498.7 1071.1h0M1499.7 1071.2h0M1500.7 1071.3h0M1501.7 1071.4h0M1502.7 1071.5h0M1503.7 1071.6h0M1504.7 1071.7h0M1505.7 1071.8h0M1506.7 1071.9h0M1507.7 1072.2h0M1508.7 1072.4h0M1509.7 1072.7h0M1510.7 1073h0M1511.7 1073.2h0M1512.7 1073.5h0M1513.7 1073.7h0M1514.7 1074h0M1515.7 1074.2h0M1516.7 1074.4h0M1517.7 1074.6h0M1518.7 1074.8h0M1519.7 1074.9h0M1520.7 1075.1h0M1521.7 1075.3h0M1522.7 1075.5h0M1523.7 1075.6h0M1524.7 1075.8h0M1525.7 1076h0M1526.7 1076.2h0M1527.7 1076.3h0M1528.7 1076.3h0M1529.7 1076.4h0M1530.7 1076.5h0M1531.7 1076.6h0M1532.7 1076.7h0M1533.7 1076.7h0M1534.7 1076.8h0M1535.7 1076.9h0M1536.7 1077h0M1537.7 1077.1h0M1538.7 1077.2h0M1539.7 1077.2h0M1540.7 1077.3h0M1541.7 1077.4h0M1542.7 1077.5h0M1543.7 1077.6h0M1544.7 1077.8h0M1545.7 1078.1h0M1546.7 1078.4h0M1547.7 1078.8h0M1548.7 1079.1h0M1549.7 1079.4h0M1550.7 1079.8h0M1551.7 1080.1h0M1552.7 1080.5h0M1553.7 1081.2h0M1554.7 1081.9h0M1555.7 1082.6h0M1556.7 1083.4h0M1557.7 1084.1h0M1558.7 1084.9h0M1559.7 1085.9h0M1560.7 1086.9h0M1561.7 1087.9h0M1562.7 1089h0M1563.7 1090h0M1564.7 1090.9h0M1565.7 1091.7h0M1566.7 1092.5h0M1567.7 1093.3h0M1568.7 1094.1h0M1569.7 1094.9h0M1570.7 1095.7h0M1571.7 1096.4h0M1572.7 1097h0M1573.7 1097.6h0M1574.7 1098.2h0M1575.7 1098.9h0M1576.7 1099.5h0M1577.7 1100.1h0M1578.7 1100.7h0M1579.7 1100.8h0M1580.7 1100.9h0M1581.7 1101h0M1582.7 1101.1h0M1583.7 1101.2h0M1584.7 1101.3h0M1585.7 1101.4h0M1586.7 1101.5h0M1587.7 1101.6h0M1588.7 1101.7h0M1589.7 1101.8h0M1590.7 1101.9h0M1591.7 1102h0M1592.7 1102.1h0M1593.7 1102.1h0M1594.7 1102.2h0M1595.7 1102.3h0M1596.7 1102.3h0M1597.7 1102.4h0M1598.7 1102.5h0M1599.7 1102.6h0M1600.7 1102.6h0M1601.7 1102.7h0M1602.7 1102.8h0M1603.7 1102.8h0M1604.7 1102.9h0M1605.7 1103h0M1606.7 1103h0M1607.7 1103.1h0M1608.7 1103.2h0M1609.7 1103.2h0M1610.7 1103.3h0M1611.7 1103.4h0M1612.7 1103.5h0M1613.7 1103.6h0M1614.7 1104h0M1615.7 1104.3h0M1616.7 1104.6h0M1617.7 1105h0M1618.7 1105.3h0M1619.7 1105.7h0M1620.7 1106h0M1621.7 1106.3h0M1622.7 1106.7h0M1623.7 1107h0M1624.7 1107.3h0M1625.7 1107.7h0M1626.7 1108h0M1627.7 1108.3h0M1628.7 1108.7h0M1629.7 1109h0M1630.7 1109.3h0M1631.7 1109.5h0M1632.7 1109.7h0M1633.7 1109.9h0M1634.7 1110.1h0M1635.7 1110.3h0M1636.7 1110.5h0M1637.7 1110.7h0M1638.7 1110.9h0M1639.7 1111.1h0M1640.7 1111.3h0M1641.7 1111.5h0M1642.7 1111.7h0M1643.7 1111.8h0M1644.7 1111.9h0M1645.7 1112h0M1646.7 1112.1h0M1647.7 1112.2h0M1648.7 1112.4h0M1649.7 1112.5h0M1650.7 1112.6h0M1651.7 1112.7h0M1652.7 1112.8h0M1653.7 1112.9h0M1654.7 1113.1h0M1655.7 1113.2h0M1656.7 1113.3h0M1657.7 1113.4h0M1658.7 1113.5h0M1659.7 1113.6h0M1660.7 1113.7h0M1661.7 1113.7h0M1662.7 1113.7h0M1663.7 1113.8h0M1664.7 1113.8h0M1665.7 1113.8h0M1666.7 1113.9h0M1667.7 1113.9h0M1668.7 1114h0M1669.7 1114h0M1670.7 1114h0M1671.7 1114.1h0M1672.7 1114.1h0M1673.7 1114.2h0M1674.7 1114.2h0M1675.7 1114.2h0M1676.7 1114.3h0M1677.7 1114.3h0M1678.7 1114.4h0M1679.7 1114.4h0M1680.7 1114.4h0M1681.7 1114.5h0M1682.7 1114.5h0M1683.7 1114.6h0M1684.7 1114.7h0M1685.7 1114.7h0M1686.7 1114.8h0M1687.7 1114.9h0M1688.7 1114.9h0M1689.7 1115h0M1690.7 1115.1h0M1691.7 1115.1h0M1692.7 1115.2h0M1693.7 1115.3h0M1694.7 1115.4h0M1695.7 1115.4h0M1696.7 1115.5h0M1697.7 1115.6h0M1698.7 1115.6h0M1699.7 1115.7h0M1700.7 1115.8h0M1701.7 1115.8h0M1702.7 1115.9h0M1703.7 1116h0M1704.7 1116h0M1705.7 1116.1h0M1706.7 1116.2h0M1707.7 1116.2h0M1708.7 1116.3h0M1709.7 1116.4h0M1710.7 1116.4h0M1711.7 1116.5h0M1712.7 1116.6h0M1713.7 1116.6h0M1714.7 1116.7h0M1715.7 1116.8h0M1716.7 1116.8h0M1717.7 1116.9h0M1718.7 1116.9h0M1719.7 1117h0M1720.7 1117.1h0M1721.7 1117.1h0M1722.7 1117.2h0M1723.7 1117.3h0M1724.7 1117.3h0M1725.7 1117.4h0M1726.7 1117.4h0M1727.7 1117.4h0M1728.7 1117.4h0M1729.7 1117.5h0M1730.7 1117.5h0M1731.7 1117.5h0M1732.7 1117.5h0M1733.7 1117.5h0M1734.7 1117.5h0M1735.7 1117.5h0M1736.7 1117.5h0M1737.7 1117.6h0M1738.7 1117.6h0M1739.7 1117.6h0M1740.7 1117.6h0M1741.7 1117.6h0M1742.7 1117.6h0M1743.7 1117.6h0M1744.7 1117.7h0M1745.7 1117.7h0M1746.7 1117.7h0M1747.7 1117.7h0M1748.7 1117.7h0M1749.7 1117.7h0M1750.7 1117.7h0M1751.7 1117.7h0M1752.7 1117.8h0M1753.7 1117.8h0M1754.7 1117.8h0M1755.7 1117.8h0M1756.7 1117.8h0M1757.7 1117.8h0M1758.7 1117.8h0M1759.7 1117.9h0M1760.7 1117.9h0M1761.7 1117.9h0M1762.7 1117.9h0M1763.7 1118.1h0M1764.7 1118.4h0M1765.7 1118.7h0M1766.7 1119h0M1767.7 1119.3h0M1768.7 1119.6h0M1769.7 1119.9h0M1770.7 1120.2h0M1771.7 1120.5h0M1772.7 1120.8h0M1773.7 1121.1h0M1774.7 1121.4h0M1775.7 1121.7h0M1776.7 1122h0M1777.7 1122.3h0M1778.7 1122.3h0M1779.7 1122.3h0M1780.7 1122.3h0M1781.7 1122.3h0M1782.7 1122.3h0M1783.7 1122.3h0M1784.7 1122.3h0M1785.7 1122.3h0M1786.7 1122.3h0M1787.7 1122.3h0M1788.7 1122.3h0M1789.7 1122.3h0M1790.7 1122.3h0M1791.7 1122.3h0M1792.7 1122.3h0M1793.7 1122.3h0M1794.7 1122.3h0M1795.7 1122.3h0M1796.7 1122.3h0M1797.7 1122.3h0M1798.7 1122.3h0M1799.7 1122.3h0M1800.7 1122.3h0M1801.7 1122.3h0M1802.7 1122.3h0M1803.7 1122.3h0M1804.7 1122.3h0M1805.7 1122.3h0M1806.7 1122.3h0M1807.7 1122.3h0M1808.7 1122.3h0M1809.7 1122.4h0M1810.7 1122.6h0M1811.7 1122.7h0M1812.7 1122.9h0M1813.7 1123h0M1814.7 1123.2h0M1815.7 1123.4h0M1816.7 1123.5h0M1817.7 1123.7h0M1818.7 1123.8h0M1819.7 1124h0M1820.7 1124.2h0M1821.7 1124.3h0M1822.7 1124.5h0M1823.7 1124.7h0M1824.7 1124.8h0M1825.7 1125h0M1826.7 1125.1h0M1827.7 1125.1h0M1828.7 1125.1h0M1829.7 1125.2h0M1830.7 1125.2h0M1831.7 1125.2h0M1832.7 1125.2h0M1833.7 1125.2h0M1834.7 1125.3h0M1835.7 1125.3h0M1836.7 1125.3h0M1837.7 1125.3h0M1838.7 1125.3h0M1839.7 1125.3h0M1840.7 1125.4h0M1841.7 1125.4h0M1842.7 1125.4h0M1843.7 1125.4h0M1844.7 1125.4h0M1845.7 1125.4h0M1846.7 1125.5h0M1847.7 1125.5h0M1848.7 1125.5h0M1849.7 1125.5h0M1850.7 1125.5h0M1851.7 1125.6h0M1852.7 1125.6h0M1853.7 1125.6h0M1854.7 1125.6h0M1855.7 1125.6h0M1856.7 1125.6h0M1857.7 1125.7h0M1858.7 1125.7h0M1859.7 1125.7h0M1860.7 1125.7h0M1861.7 1125.7h0M1862.7 1125.8h0M1863.7 1125.8h0M1864.7 1125.8h0M1865.7 1125.8h0M1866.7 1125.9h0M1867.7 1125.9h0M1868.7 1126h0M1869.7 1126h0M1870.7 1126h0M1871.7 1126.1h0M1872.7 1126.1h0M1873.7 1126.2h0M1874.7 1126.2h0M1875.7 1126.3h0M1876.7 1126.3h0M1877.7 1126.3h0M1878.7 1126.4h0M1879.7 1126.4h0M1880.7 1126.5h0M1881.7 1126.6h0M1882.7 1127h0M1883.7 1127.3h0M1884.7 1127.6h0M1885.7 1127.9h0M1886.7 1128.2h0M1887.7 1128.3h0M1888.7 1128.3h0M1889.7 1128.3h0M1890.7 1128.3h0M1891.7 1128.3h0M1892.7 1128.3h0M1893.7 1128.3h0M1894.7 1128.3h0M1895.7 1128.3h0M1896.7 1128.3h0M1897.7 1128.3h0M1898.7 1128.3h0M1899.7 1128.3h0M1900.7 1128.3h0M1901.7 1128.3h0M1902.7 1128.3h0M1903.7 1128.3h0M1904.7 1128.3h0M1905.7 1128.3h0M1906.7 1128.3h0M1907.7 1128.3h0M1908.7 1128.3h0M1909.7 1128.3h0M1910.7 1128.3h0M1911.7 1128.3h0M1912.7 1128.3h0M1913.7 1128.3h0M1914.7 1128.3h0M1915.7 1128.3h0M1916.7 1128.3h0M1917.7 1128.3h0M1918.7 1128.3h0M1919.7 1128.3h0M1920.7 1128.3h0M1921.7 1128.3h0M1922.7 1128.3h0M1923.7 1128.3h0M1924.7 1128.3h0M1925.7 1128.3h0M1926.7 1128.3h0M1927.7 1128.3h0M1928.7 1128.3h0M1929.7 1128.3h0M1930.7 1128.3h0M1931.7 1128.3h0M1932.7 1128.3h0M1933.7 1128.4h0M1934.7 1128.4h0M1935.7 1128.4h0M1936.7 1128.4h0M1937.7 1128.4h0M1938.7 1128.4h0M1939.7 1128.4h0M1940.7 1128.4h0M1941.7 1128.4h0M1942.7 1128.4h0M1943.7 1128.4h0M1944.7 1128.4h0M1945.7 1128.4h0M1946.7 1128.4h0M1947.7 1128.4h0M1948.7 1128.4h0M1949.7 1128.4h0M1950.7 1128.4h0M1951.7 1128.4h0M1952.7 1128.4h0M1953.7 1128.4h0M1954.7 1128.4h0M1955.7 1128.4h0M1956.7 1128.4h0M1957.7 1128.4h0M1958.7 1128.4h0M1959.7 1128.4h0M1960.7 1128.4h0M1961.7 1128.4h0M1962.7 1128.4h0M1963.7 1128.4h0M1964.7 1128.4h0M1965.7 1128.4h0M1966.7 1128.4h0M1967.7 1128.4h0M1968.7 1128.4h0M1969.7 1128.4h0M1970.7 1128.4h0M1971.7 1128.4h0M1972.7 1128.4h0M1973.7 1128.4h0M1974.7 1128.4h0M1975.7 1128.4h0M1976.7 1128.4h0M1977.7 1128.4h0M1978.7 1128.4h0M1979.7 1128.4h0M1980.7 1128.4h0M1981.7 1128.4h0M1982.7 1128.4h0M1983.7 1128.4h0M1984.7 1128.4h0M1985.7 1128.4h0M1986.7 1128.4h0M1987.7 1128.4h0M1988.7 1128.4h0M1989.7 1128.4h0M1990.7 1128.4h0M1991.7 1128.4h0M1992.7 1128.4h0M1993.7 1128.4h0M1994.7 1128.4h0M1995.7 1128.4h0M1996.7 1128.4h0M1997.7 1128.4h0M1998.7 1128.4h0M1999.7 1128.4h0M2000.7 1128.4h0M2001.7 1128.4h0M2002.7 1128.4h0M2003.7 1128.4h0M2004.7 1128.4h0M2005.7 1128.4h0M2006.7 1128.4h0M2007.7 1128.4h0M2008.7 1128.4h0M2009.7 1128.4h0M2010.7 1128.4h0M2011.7 1128.4h0M2012.7 1128.4h0M2013.7 1128.4h0M2014.7 1128.4h0M2015.7 1128.4h0M2016.7 1128.4h0M2017.7 1128.4h0M2018.7 1128.4h0M2019.7 1128.4h0M2020.7 1128.4h0M2021.7 1128.4h0M2022.7 1128.4h0M2023.7 1128.4h0M2024.7 1128.5h0M2025.7 1128.5h0M2026.7 1128.5h0M2027.7 1128.5h0M2028.7 1128.5h0M2029.7 1128.5h0M2030.7 1128.5h0M2031.7 1128.5h0M2032.7 1128.5h0M2033.7 1128.5h0M2034.7 1128.5h0M2035.7 1128.5h0M2036.7 1128.5h0M2037.7 1128.5h0M2038.7 1128.5h0M2039.7 1128.5h0M2040.7 1128.5h0M2041.7 1128.5h0M2042.7 1128.5h0M2043.7 1128.5h0M2044.7 1128.5h0M2045.7 1128.5h0M2046.7 1128.5h0M2047.7 1128.5h0M2048.7 1128.5h0M2049.7 1128.5h0M2050.7 1128.5h0M2051.7 1128.5h0M2052.7 1128.5h0M2053.7 1128.5h0M2054.7 1128.5h0M2055.7 1128.5h0M2056.7 1128.5h0M2057.7 1128.5h0M2058.7 1128.5h0M2059.7 1128.5h0M2060.7 1128.5h0M2061.7 1128.5h0M2062.7 1128.5h0M2063.7 1128.5h0M2064.5 1128.5h0"/>
<path class="m" stroke="#B177DE" d="M312.9 1211.6h0M444.8 1192.5h0M521.9 1175.6h0M576.6 1182.5h0M619 1178.4h0M653.7 1162.3h0M683 1149.6h0M708.4 1149.4h0M730.8 1149.6h0M750.8 1169.5h0M769 1182.5h0M785.5 1183.4h0M800.7 1187.4h0M814.8 1189.2h0M828 1189.4h0M840.2 1189.4h0M851.8 1189h0M862.6 1188.5h0M872.9 1187.6h0M882.7 1185.5h0M891.9 1183.3h0M900.8 1180.3h0M909.3 1177.5h0M917.3 1176.3h0M925.1 1176.3h0M932.6 1177.5h0M939.7 1181.8h0M946.7 1186h0M953.3 1191.6h0M959.8 1193.9h0M966 1196.4h0M972.1 1199.2h0M977.9 1200.4h0M983.6 1201.9h0M989.1 1203.8h0M994.5 1205.6h0M999.7 1207.2h0M1004.7 1209.2h0M1009.7 1210.4h0M1014.5 1210.9h0M1019.2 1211.3h0M1023.8 1211.3h0M1028.2 1211.3h0M1032.6 1211.3h0M1036.9 1211.3h0M1041.1 1211.3h0M1045.2 1211.3h0M1049.2 1211.3h0M1053.1 1211.3h0M1056.9 1211.3h0M1060.7 1211.3h0M1064.4 1211.3h0M1068 1211.2h0M1071.6 1211.2h0M1075.1 1211.1h0M1078.5 1211h0M1081.8 1210.1h0M1085.2 1209.2h0M1088.4 1208.7h0M1091.6 1208.1h0M1094.7 1207.6h0M1097.8 1207h0M1100.9 1207h0M1103.9 1207.3h0M1106.8 1207.6h0M1109.7 1207.8h0M1112.6 1208.1h0M1115.4 1208.4h0M1118.2 1208.7h0M1120.9 1208.9h0M1123.6 1209.7h0M1126.3 1210.6h0M1128.9 1210.6h0M1131.5 1210.6h0M1134 1210.5h0M1136.6 1210.5h0M1139 1210.5h0M1141.5 1202.3h0M1143.9 1207.3h0M1146.3 1209h0M1148.7 1210.7h0M1151 1212.3h0M1153.3 1213.3h0M1155.6 1214.3h0M1157.8 1215.3h0M1160.1 1216.1h0M1162.3 1216.5h0M1164.4 1216.9h0M1166.6 1217.3h0M1168.7 1217.7h0M1170.8 1217.8h0M1172.9 1217.8h0M1174.9 1217.8h0M1177 1217.8h0M1179 1217.8h0M1181 1217.8h0M1183 1217.8h0M1184.9 1217.8h0M1186.8 1217.8h0M1188.8 1217.8h0M1190.6 1217.8h0M1192.5 1217.8h0M1194.4 1218.2h0M1196.2 1218.5h0M1198 1218.9h0M1199.8 1219.2h0M1201.6 1220.2h0M1203.4 1222h0M1205.1 1223.7h0M1206.9 1225.5h0M1208.6 1227.7h0M1210.3 1229.8h0M1212 1231.8h0M1213.7 1233.5h0M1215.3 1235.1h0M1217 1236.8h0M1218.6 1238.4h0M1220.2 1240h0M1221.8 1241.6h0M1223.4 1242.2h0M1225 1242.4h0M1226.6 1242.7h0M1228.1 1242.9h0M1229.7 1243.2h0M1231.2 1243.4h0M1232.7 1243.7h0M1234.2 1244h0M1235.7 1244.9h0M1237.2 1245.8h0M1238.6 1246.6h0M1240.1 1248.1h0M1241.5 1249.7h0M1243 1251.3h0M1244.4 1252.9h0M1245.8 1254.9h0M1247.2 1257h0M1248.6 1259h0M1250 1261.1h0M1251.4 1263.1h0M1252.7 1264.8h0M1254.1 1265.7h0M1255.4 1266.6h0M1256.8 1267.5h0M1258.1 1268.5h0M1259.4 1270.7h0M1260.7 1272.8h0M1262 1274.5h0M1263.3 1275.6h0M1264.6 1276.7h0M1265.9 1277.9h0M1267.1 1279.2h0M1268.4 1280.5h0M1269.6 1281.8h0M1270.9 1283.2h0M1272.1 1284.6h0M1273.3 1285.9h0M1274.5 1287.2h0M1275.7 1288.4h0M1276.9 1289.6h0M1278.1 1290.8h0M1279.3 1292.4h0M1280.5 1294h0M1281.7 1295.6h0M1282.8 1297.1h0M1284 1298.6h0M1285.1 1300.1h0M1286.3 1300.4h0M1287.4 1300.6h0M1288.5 1300.7h0M1289.7 1300.9h0M1290.8 1301h0M1291.9 1301.1h0M1293 1301.3h0M1294.1 1301.4h0M1295.2 1301.7h0M1296.3 1302.1h0M1297.3 1302.5h0M1298.4 1303h0M1299.5 1303.4h0M1300.5 1303.8h0M1301.6 1304.5h0M1302.6 1305.3h0M1303.7 1306.1h0M1304.7 1306.8h0M1305.7 1307.6h0M1306.8 1308.4h0M1307.8 1309.2h0M1308.8 1309.9h0M1309.8 1310.7h0M1310.8 1311.5h0M1311.8 1312.2h0M1312.8 1313h0M1313.8 1313.7h0M1314.8 1314.4h0M1315.8 1315.1h0M1316.7 1315.7h0M1317.7 1316.2h0M1318.7 1316.8h0M1319.6 1317.4h0M1320.6 1318h0M1321.5 1318.4h0M1322.5 1318.7h0M1323.4 1318.9h0M1324.3 1319.2h0M1325.3 1319.5h0M1326.2 1319.8h0M1327.1 1320h0M1328 1320.3h0M1328.9 1320.6h0M1329.8 1320.8h0M1330.8 1321.2h0M1331.7 1321.5h0M1332.5 1321.9h0M1333.4 1322.3h0M1334.3 1322.7h0M1335.2 1323.1h0M1336.1 1323.4h0M1337 1323.8h0M1337.8 1324.2h0M1338.7 1324.7h0M1339.6 1325.1h0M1340.4 1325.5h0M1341.3 1326h0M1342.1 1326.4h0M1343 1326.8h0M1343.8 1327.2h0M1344.7 1327.6h0M1345.5 1328.1h0M1346.3 1328.5h0M1347.2 1328.9h0M1348 1329.3h0M1348.8 1329.7h0M1349.6 1330.1h0M1350.4 1330.6h0M1351.2 1331.1h0M1352 1331.6h0M1352.9 1332h0M1353.7 1332.5h0M1354.5 1333h0M1355.2 1333.5h0M1356 1334.1h0M1356.8 1334.7h0M1357.6 1335.3h0M1358.4 1335.8h0M1359.2 1336.4h0M1359.9 1337h0M1360.7 1337.5h0M1361.5 1338h0M1362.2 1338.4h0M1363 1338.9h0M1363.8 1339.3h0M1364.5 1339.8h0M1365.3 1340.2h0M1366 1340.7h0M1366.8 1341h0M1367.5 1341.4h0M1368.3 1341.8h0M1369 1342.1h0M1369.7 1342.5h0M1370.5 1342.9h0M1371.2 1343.2h0M1371.9 1343.6h0M1372.6 1344h0M1373.4 1344.3h0M1374.1 1344.6h0M1374.8 1344.8h0M1375.5 1345.1h0M1376.2 1345.3h0M1376.9 1345.5h0M1377.6 1345.8h0M1378.3 1346h0M1379 1346.2h0M1379.7 1346.5h0M1380.4 1346.7h0M1381.1 1346.9h0M1381.8 1347.1h0M1382.5 1347.2h0M1383.2 1347.4h0M1383.9 1347.6h0M1384.6 1347.8h0M1385.2 1347.9h0M1385.9 1348.1h0M1386.6 1348.3h0M1387.3 1348.4h0M1387.9 1348.6h0M1388.6 1348.8h0M1389.3 1348.9h0M1389.9 1349.1h0M1390.6 1349.2h0M1391.2 1349.4h0M1391.9 1349.5h0M1392.5 1349.6h0M1393.2 1349.8h0M1393.8 1349.9h0M1394.5 1350h0M1395.1 1350.1h0M1395.8 1350.3h0M1396.4 1350.4h0M1397 1350.5h0M1397.7 1350.7h0M1398.7 1350.9h0M1399.7 1351.1h0M1400.7 1351.4h0M1401.7 1351.8h0M1402.7 1352.1h0M1403.7 1352.4h0M1404.7 1352.8h0M1405.7 1353.1h0M1406.7 1353.4h0M1407.7 1353.5h0M1408.7 1353.5h0M1409.7 1353.5h0M1410.7 1353.6h0M1411.7 1353.6h0M1412.7 1353.7h0M1413.7 1353.7h0M1414.7 1353.8h0M1415.7 1353.8h0M1416.7 1353.9h0M1417.7 1353.9h0M1418.7 1354h0M1419.7 1354h0M1420.7 1354.1h0M1421.7 1354.1h0M1422.7 1354.2h0M1423.7 1354.2h0M1424.7 1354.3h0M1425.7 1354.3h0M1426.7 1354.4h0M1427.7 1354.4h0M1428.7 1354.5h0M1429.7 1354.8h0M1430.7 1355.4h0M1431.7 1356h0M1432.7 1356.6h0M1433.7 1357.3h0M1434.7 1358.2h0M1435.7 1359.2h0M1436.7 1360.2h0M1437.7 1361.1h0M1438.7 1361.3h0M1439.7 1361.6h0M1440.7 1361.9h0M1441.7 1362.2h0M1442.7 1362.5h0M1443.7 1362.8h0M1444.7 1363.1h0M1445.7 1363.4h0M1446.7 1363.7h0M1447.7 1364h0M1448.7 1364.3h0M1449.7 1364.7h0M1450.7 1365.4h0M1451.7 1366.1h0M1452.7 1366.8h0M1453.7 1367.7h0M1454.7 1368.7h0M1455.7 1369.7h0M1456.7 1370.7h0M1457.7 1371.7h0M1458.7 1373h0M1459.7 1374.3h0M1460.7 1375.6h0M1461.7 1376.8h0M1462.7 1377.8h0M1463.7 1378.8h0M1464.7 1379.9h0M1465.7 1380.8h0M1466.7 1381.7h0M1467.7 1382.6h0M1468.7 1383.2h0M1469.7 1383.2h0M1470.7 1383.2h0M1471.7 1383.2h0M1472.7 1383.2h0M1473.7 1383.2h0M1474.7 1383.2h0M1475.7 1383.2h0M1476.7 1383.2h0M1477.7 1383.2h0M1478.7 1383.2h0M1479.7 1383.2h0M1480.7 1382.4h0M1481.2 1384h0M1481.7 1382.4h0M1482.2 1384h0M1482.7 1382.4h0M1483.2 1384h0M1483.7 1382.4h0M1484.2 1384h0M1484.7 1382.4h0M1485.2 1384h0M1485.7 1382.4h0M1486.2 1384h0M1486.7 1382.4h0M1487.2 1384h0M1487.7 1382.4h0M1488.2 1384h0M1488.7 1382.4h0M1489.2 1384h0M1489.7 1382.4h0M1490.2 1384h0M1490.7 1382.4h0M1491.2 1384h0M1491.7 1382.4h0M1492.2 1384h0M1492.7 1382.4h0M1493.2 1384h0M1493.7 1382.4h0M1494.2 1384h0M1494.7 1382.4h0M1495.2 1384h0M1495.7 1382.4h0M1496.2 1384h0M1496.7 1382.4h0M1497.2 1384h0M1497.7 1382.4h0M1498.2 1384h0M1498.7 1382.4h0M1499.2 1384h0M1499.7 1382.4h0M1500.2 1384h0M1500.7 1382.4h0M1501.2 1384h0M1501.7 1382.4h0M1502.2 1384h0M1502.7 1382.4h0M1503.2 1384h0M1503.7 1382.8h0M1504.2 1384.4h0M1504.7 1383.4h0M1505.2 1385h0M1505.7 1384h0M1506.2 1385.6h0M1506.7 1384.5h0M1507.2 1386.1h0M1507.7 1385.1h0M1508.2 1386.7h0M1508.7 1385.4h0M1509.2 1387h0M1509.7 1385.8h0M1510.2 1387.4h0M1510.7 1386.1h0M1511.2 1387.7h0M1511.7 1386.4h0M1512.2 1388h0M1512.7 1386.8h0M1513.2 1388.4h0M1513.7 1387.1h0M1514.2 1388.7h0M1514.7 1387.5h0M1515.2 1389.1h0M1515.7 1388h0M1516.2 1389.6h0M1516.7 1388.5h0M1517.2 1390.1h0M1517.7 1389h0M1518.2 1390.6h0M1518.7 1389.5h0M1519.2 1391.1h0M1519.7 1390.1h0M1520.2 1391.7h0M1520.7 1390.6h0M1521.2 1392.2h0M1521.7 1390.7h0M1522.2 1392.3h0M1522.7 1390.9h0M1523.2 1392.5h0M1523.7 1391h0M1524.2 1392.6h0M1524.7 1391.2h0M1525.2 1392.8h0M1525.7 1391.3h0M1526.2 1392.9h0M1526.7 1391.5h0M1527.2 1393.1h0M1527.7 1391.5h0M1528.2 1393.1h0M1528.7 1391.5h0M1529.2 1393.1h0M1529.7 1391.5h0M1530.2 1393.1h0M1530.7 1391.5h0M1531.2 1393.1h0M1531.7 1391.5h0M1532.2 1393.1h0M1532.7 1391.5h0M1533.2 1393.1h0M1533.7 1391.5h0M1534.2 1393.1h0M1534.7 1391.5h0M1535.2 1393.1h0M1535.7 1391.5h0M1536.2 1393.1h0M1536.7 1391.5h0M1537.2 1393.1h0M1537.7 1391.5h0M1538.2 1393.1h0M1538.7 1391.5h0M1539.2 1393.1h0M1539.7 1391.5h0M1540.2 1393.1h0M1540.7 1391.5h0M1541.2 1393.1h0M1541.7 1391.5h0M1542.2 1393.1h0M1542.7 1391.5h0M1543.2 1393.1h0M1543.7 1391.5h0M1544.2 1393.1h0M1544.7 1391.5h0M1545.2 1393.1h0M1545.7 1391.5h0M1546.2 1393.1h0M1546.7 1391.5h0M1547.2 1393.1h0M1547.7 1391.5h0M1548.2 1393.1h0M1548.7 1391.5h0M1549.2 1393.1h0M1549.7 1391.5h0M1550.2 1393.1h0M1550.7 1391.5h0M1551.2 1393.1h0M1551.7 1391.5h0M1552.2 1393.1h0M1552.7 1391.5h0M1553.2 1393.1h0M1553.7 1391.5h0M1554.2 1393.1h0M1554.7 1391.5h0M1555.2 1393.1h0M1555.7 1391.5h0M1556.2 1393.1h0M1556.7 1391.5h0M1557.2 1393.1h0M1557.7 1391.5h0M1558.2 1393.1h0M1558.7 1391.5h0M1559.2 1393.1h0M1559.7 1391.5h0M1560.2 1393.1h0M1560.7 1391.5h0M1561.2 1393.1h0M1561.7 1391.5h0M1562.2 1393.1h0M1562.7 1391.5h0M1563.2 1393.1h0M1563.7 1391.5h0M1564.2 1393.1h0M1564.7 1391.5h0M1565.2 1393.1h0M1565.7 1391.5h0M1566.2 1393.1h0M1566.7 1391.5h0M1567.2 1393.1h0M1567.7 1391.8h0M1568.2 1393.4h0M1568.7 1392.2h0M1569.2 1393.8h0M1569.7 1392.5h0M1570.2 1394.1h0M1570.7 1392.9h0M1571.2 1394.5h0M1571.7 1393.3h0M1572.2 1394.9h0M1572.7 1393.7h0M1573.2 1395.3h0M1573.7 1394.1h0M1574.2 1395.7h0M1574.7 1394.5h0M1575.2 1396.1h0M1575.7 1394.9h0M1576.2 1396.5h0M1576.7 1395.3h0M1577.2 1396.9h0M1577.7 1395.7h0M1578.2 1397.3h0M1578.7 1396h0M1579.2 1397.6h0M1579.7 1396.4h0M1580.2 1398h0M1580.7 1396.8h0M1581.2 1398.4h0M1581.7 1397.1h0M1582.2 1398.7h0M1582.7 1397.5h0M1583.2 1399.1h0M1583.7 1397.9h0M1584.2 1399.5h0M1584.7 1398.3h0M1585.2 1399.9h0M1585.7 1398.6h0M1586.2 1400.2h0M1586.7 1399h0M1587.2 1400.6h0M1587.7 1399.4h0M1588.2 1401h0M1588.7 1399.7h0M1589.2 1401.3h0M1589.7 1399.8h0M1590.2 1401.4h0M1590.7 1399.9h0M1591.2 1401.5h0M1591.7 1400h0M1592.2 1401.6h0M1592.7 1400.1h0M1593.2 1401.7h0M1593.7 1400.2h0M1594.2 1401.8h0M1594.7 1400.3h0M1595.2 1401.9h0M1595.7 1400.4h0M1596.2 1402h0M1596.7 1400.5h0M1597.2 1402.1h0M1597.7 1400.6h0M1598.2 1402.2h0M1598.7 1400.6h0M1599.2 1402.2h0M1599.7 1400.7h0M1600.2 1402.3h0M1600.7 1400.8h0M1601.2 1402.4h0M1601.7 1400.9h0M1602.2 1402.5h0M1602.7 1401h0M1603.2 1402.6h0M1603.7 1401.1h0M1604.2 1402.7h0M1604.7 1401.2h0M1605.2 1402.8h0M1605.7 1401.3h0M1606.2 1402.9h0M1606.7 1401.4h0M1607.2 1403h0M1607.7 1401.5h0M1608.2 1403.1h0M1608.7 1401.6h0M1609.2 1403.2h0M1609.7 1401.7h0M1610.2 1403.3h0M1610.7 1401.9h0M1611.2 1403.5h0M1611.7 1402.2h0M1612.2 1403.8h0M1612.7 1402.5h0M1613.2 1404.1h0M1613.7 1402.8h0M1614.2 1404.4h0M1614.7 1403h0M1615.2 1404.6h0M1615.7 1403.3h0M1616.2 1404.9h0M1616.7 1403.6h0M1617.2 1405.2h0M1617.7 1403.9h0M1618.2 1405.5h0M1618.7 1404.2h0M1619.2 1405.8h0M1619.7 1404.5h0M1620.2 1406.1h0M1620.7 1404.8h0M1621.2 1406.4h0M1621.7 1405h0M1622.2 1406.6h0M1622.7 1405.3h0M1623.2 1406.9h0M1623.7 1405.6h0M1624.2 1407.2h0M1624.7 1405.9h0M1625.2 1407.5h0M1625.7 1404.6h0M1626.2 1409h0M1626.7 1404.6h0M1627.2 1409h0M1627.7 1404.6h0M1628.2 1409h0M1628.7 1404.6h0M1629.2 1409h0M1629.7 1404.6h0M1630.2 1409h0M1630.7 1404.6h0M1631.2 1409h0M1631.7 1404.6h0M1632.2 1409h0M1632.7 1404.6h0M1633.2 1409h0M1633.7 1404.6h0M1634.2 1409h0M1634.7 1404.6h0M1635.2 1409h0M1635.7 1404.6h0M1636.2 1409h0M1636.7 1404.6h0M1637.2 1409h0M1637.7 1404.6h0M1638.2 1409h0M1638.7 1404.6h0M1639.2 1409h0M1639.7 1404.6h0M1640.2 1409h0M1640.7 1404.6h0M1641.2 1409h0M1641.7 1404.6h0M1642.2 1409h0M1642.7 1404.6h0M1643.2 1409h0M1643.7 1404.6h0M1644.2 1409h0M1644.7 1404.6h0M1645.2 1409h0M1645.7 1404.6h0M1646.2 1409h0M1646.7 1404.6h0M1647.2 1409h0M1647.7 1404.6h0M1648.2 1409h0M1648.7 1404.6h0M1649.2 1409h0M1649.7 1404.6h0M1650.2 1409h0M1650.7 1404.6h0M1651.2 1409h0M1651.7 1404.6h0M1652.2 1409h0M1652.7 1404.6h0M1653.2 1409h0M1653.7 1404.6h0M1654.2 1409h0M1654.7 1404.6h0M1655.2 1409h0M1655.7 1404.6h0M1656.2 1409h0M1656.7 1404.6h0M1657.2 1409h0M1657.7 1404.6h0M1658.2 1409h0M1658.7 1404.6h0M1659.2 1409h0M1659.7 1404.6h0M1660.2 1409h0M1660.7 1404.6h0M1661.2 1409h0M1661.7 1404.6h0M1662.2 1409h0M1662.7 1404.6h0M1663.2 1409h0M1663.7 1404.6h0M1664.2 1409h0M1664.7 1404.6h0M1665.2 1409h0M1665.7 1404.6h0M1666.2 1409h0M1666.7 1404.6h0M1667.2 1409h0M1667.7 1404.6h0M1668.2 1409h0M1668.7 1404.6h0M1669.2 1409h0M1669.7 1404.6h0M1670.2 1409h0M1670.7 1404.6h0M1671.2 1409h0M1671.7 1404.6h0M1672.2 1409h0M1672.7 1404.6h0M1673.2 1409h0M1673.7 1404.6h0M1674.2 1409h0M1674.7 1404.6h0M1675.2 1409h0M1675.7 1404.6h0M1676.2 1409h0M1676.7 1404.6h0M1677.2 1409h0M1677.7 1404.6h0M1678.2 1409h0M1678.7 1404.6h0M1679.2 1409h0M1679.7 1404.6h0M1680.2 1409h0M1680.7 1404.7h0M1681.2 1409.1h0M1681.7 1404.7h0M1682.2 1409.1h0M1682.7 1404.7h0M1683.2 1409.1h0M1683.7 1404.7h0M1684.2 1409.1h0M1684.7 1404.7h0M1685.2 1409.1h0M1685.7 1404.7h0M1686.2 1409.1h0M1686.7 1404.7h0M1687.2 1409.1h0M1687.7 1404.7h0M1688.2 1409.1h0M1688.7 1404.7h0M1689.2 1409.1h0M1689.7 1404.7h0M1690.2 1409.1h0M1690.7 1404.7h0M1691.2 1409.1h0M1691.7 1404.7h0M1692.2 1409.1h0M1692.7 1404.7h0M1693.2 1409.1h0M1693.7 1404.7h0M1694.2 1409.1h0M1694.7 1404.7h0M1695.2 1409.1h0M1695.7 1404.7h0M1696.2 1409.1h0M1696.7 1404.7h0M1697.2 1409.1h0M1697.7 1404.7h0M1698.2 1409.1h0M1698.7 1404.7h0M1699.2 1409.1h0M1699.7 1404.7h0M1700.2 1409.1h0M1700.7 1404.7h0M1701.2 1409.1h0M1701.7 1404.7h0M1702.2 1409.1h0M1702.7 1404.7h0M1703.2 1409.1h0M1703.7 1404.7h0M1704.2 1409.1h0M1704.7 1404.7h0M1705.2 1409.1h0M1705.7 1404.7h0M1706.2 1409.1h0M1706.7 1404.7h0M1707.2 1409.1h0M1707.7 1404.7h0M1708.2 1409.1h0M1708.7 1404.7h0M1709.2 1409.1h0M1709.7 1404.7h0M1710.2 1409.1h0M1710.7 1404.7h0M1711.2 1409.1h0M1711.7 1404.7h0M1712.2 1409.1h0M1712.7 1404.7h0M1713.2 1409.1h0M1713.7 1404.7h0M1714.2 1409.1h0M1714.7 1404.7h0M1715.2 1409.1h0M1715.7 1404.7h0M1716.2 1409.1h0M1716.7 1404.7h0M1717.2 1409.1h0M1717.7 1404.7h0M1718.2 1409.1h0M1718.7 1404.7h0M1719.2 1409.1h0M1719.7 1404.7h0M1720.2 1409.1h0M1720.7 1404.7h0M1721.2 1409.1h0M1721.7 1404.7h0M1722.2 1409.1h0M1722.7 1404.7h0M1723.2 1409.1h0M1723.7 1404.7h0M1724.2 1409.1h0M1724.7 1404.7h0M1725.2 1409.1h0M1725.7 1404.7h0M1726.2 1409.1h0M1726.7 1404.7h0M1727.2 1409.1h0M1727.7 1404.7h0M1728.2 1409.1h0M1728.7 1404.7h0M1729.2 1409.1h0M1729.7 1404.7h0M1730.2 1409.1h0M1730.7 1404.7h0M1731.2 1409.1h0M1731.7 1404.7h0M1732.2 1409.1h0M1732.7 1404.7h0M1733.2 1409.1h0M1733.7 1404.7h0M1734.2 1409.1h0M1734.7 1404.7h0M1735.2 1409.1h0M1735.7 1404.7h0M1736.2 1409.1h0M1736.7 1404.7h0M1737.2 1409.1h0M1737.7 1404.7h0M1738.2 1409.1h0M1738.7 1404.7h0M1739.2 1409.1h0M1739.7 1404.7h0M1740.2 1409.1h0M1740.7 1404.7h0M1741.2 1409.1h0M1741.7 1404.7h0M1742.2 1409.1h0M1742.7 1404.7h0M1743.2 1409.1h0M1743.7 1404.7h0M1744.2 1409.1h0M1744.7 1404.7h0M1745.2 1409.1h0M1745.7 1404.7h0M1746.2 1409.1h0M1746.7 1404.7h0M1747.2 1409.1h0M1747.7 1404.7h0M1748.2 1409.1h0M1748.7 1404.7h0M1749.2 1409.1h0M1749.7 1404.7h0M1750.2 1409.1h0M1750.7 1404.7h0M1751.2 1409.1h0M1751.7 1404.7h0M1752.2 1409.1h0M1752.7 1404.7h0M1753.2 1409.1h0M1753.7 1404.7h0M1754.2 1409.1h0M1754.7 1404.7h0M1755.2 1409.1h0M1755.7 1404.7h0M1756.2 1409.1h0M1756.7 1404.7h0M1757.2 1409.1h0M1757.7 1404.7h0M1758.2 1409.1h0M1758.7 1404.7h0M1759.2 1409.1h0M1759.7 1404.7h0M1760.2 1409.1h0M1760.7 1404.7h0M1761.2 1409.1h0M1761.7 1404.7h0M1762.2 1409.1h0M1762.7 1404.7h0M1763.2 1409.1h0M1763.7 1404.7h0M1764.2 1409.1h0M1764.7 1404.7h0M1765.2 1409.1h0M1765.7 1404.7h0M1766.2 1409.1h0M1766.7 1404.7h0M1767.2 1409.1h0M1767.7 1404.7h0M1768.2 1409.1h0M1768.7 1404.7h0M1769.2 1409.1h0M1769.7 1404.7h0M1770.2 1409.1h0M1770.7 1404.7h0M1771.2 1409.1h0M1771.7 1404.7h0M1772.2 1409.1h0M1772.7 1404.7h0M1773.2 1409.1h0M1773.7 1404.7h0M1774.2 1409.1h0M1774.7 1404.7h0M1775.2 1409.1h0M1775.7 1404.7h0M1776.2 1409.1h0M1776.7 1404.7h0M1777.2 1409.1h0M1777.7 1404.7h0M1778.2 1409.1h0M1778.7 1404.7h0M1779.2 1409.1h0M1779.7 1404.7h0M1780.2 1409.1h0M1780.7 1404.7h0M1781.2 1409.1h0M1781.7 1404.7h0M1782.2 1409.1h0M1782.7 1404.7h0M1783.2 1409.1h0M1783.7 1404.7h0M1784.2 1409.1h0M1784.7 1404.7h0M1785.2 1409.1h0M1785.7 1404.7h0M1786.2 1409.1h0M1786.7 1404.7h0M1787.2 1409.1h0M1787.7 1404.7h0M1788.2 1409.1h0M1788.7 1404.7h0M1789.2 1409.1h0M1789.7 1404.7h0M1790.2 1409.1h0M1790.7 1404.7h0M1791.2 1409.1h0M1791.7 1404.7h0M1792.2 1409.1h0M1792.7 1404.8h0M1793.2 1409.2h0M1793.7 1404.8h0M1794.2 1409.2h0M1794.7 1404.8h0M1795.2 1409.2h0M1795.7 1404.8h0M1796.2 1409.2h0M1796.7 1404.8h0M1797.2 1409.2h0M1797.7 1404.8h0M1798.2 1409.2h0M1798.7 1404.8h0M1799.2 1409.2h0M1799.7 1404.8h0M1800.2 1409.2h0M1800.7 1404.8h0M1801.2 1409.2h0M1801.7 1404.8h0M1802.2 1409.2h0M1802.7 1404.8h0M1803.2 1409.2h0M1803.7 1404.8h0M1804.2 1409.2h0M1804.7 1404.8h0M1805.2 1409.2h0M1805.7 1404.8h0M1806.2 1409.2h0M1806.7 1404.8h0M1807.2 1409.2h0M1807.7 1404.8h0M1808.2 1409.2h0M1808.7 1404.8h0M1809.2 1409.2h0M1809.7 1404.8h0M1810.2 1409.2h0M1810.7 1404.8h0M1811.2 1409.2h0M1811.7 1404.8h0M1812.2 1409.2h0M1812.7 1404.8h0M1813.2 1409.2h0M1813.7 1404.8h0M1814.2 1409.2h0M1814.7 1404.8h0M1815.2 1409.2h0M1815.7 1404.8h0M1816.2 1409.2h0M1816.7 1404.8h0M1817.2 1409.2h0M1817.7 1404.8h0M1818.2 1409.2h0M1818.7 1404.8h0M1819.2 1409.2h0M1819.7 1404.8h0M1820.2 1409.2h0M1820.7 1404.8h0M1821.2 1409.2h0M1821.7 1404.8h0M1822.2 1409.2h0M1822.7 1404.8h0M1823.2 1409.2h0M1823.7 1404.8h0M1824.2 1409.2h0M1824.7 1404.8h0M1825.2 1409.2h0M1825.7 1404.8h0M1826.2 1409.2h0M1826.7 1404.8h0M1827.2 1409.2h0M1827.7 1404.8h0M1828.2 1409.2h0M1828.7 1404.8h0M1829.2 1409.2h0M1829.7 1404.8h0M1830.2 1409.2h0M1830.7 1404.8h0M1831.2 1409.2h0M1831.7 1404.8h0M1832.2 1409.2h0M1832.7 1404.8h0M1833.2 1409.2h0M1833.7 1404.8h0M1834.2 1409.2h0M1834.7 1404.8h0M1835.2 1409.2h0M1835.7 1404.8h0M1836.2 1409.2h0M1836.7 1404.8h0M1837.2 1409.2h0M1837.7 1404.8h0M1838.2 1409.2h0M1838.7 1404.8h0M1839.2 1409.2h0M1839.7 1404.8h0M1840.2 1409.2h0M1840.7 1404.8h0M1841.2 1409.2h0M1841.7 1404.8h0M1842.2 1409.2h0M1842.7 1404.8h0M1843.2 1409.2h0M1843.7 1404.8h0M1844.2 1409.2h0M1844.7 1404.8h0M1845.2 1409.2h0M1845.7 1404.8h0M1846.2 1409.2h0M1846.7 1404.8h0M1847.2 1409.2h0M1847.7 1404.8h0M1848.2 1409.2h0M1848.7 1404.8h0M1849.2 1409.2h0M1849.7 1404.8h0M1850.2 1409.2h0M1850.7 1404.8h0M1851.2 1409.2h0M1851.7 1404.8h0M1852.2 1409.2h0M1852.7 1404.8h0M1853.2 1409.2h0M1853.7 1404.8h0M1854.2 1409.2h0M1854.7 1404.8h0M1855.2 1409.2h0M1855.7 1404.8h0M1856.2 1409.2h0M1856.7 1404.8h0M1857.2 1409.2h0M1857.7 1404.8h0M1858.2 1409.2h0M1858.7 1404.8h0M1859.2 1409.2h0M1859.7 1404.8h0M1860.2 1409.2h0M1860.7 1404.8h0M1861.2 1409.2h0M1861.7 1404.8h0M1862.2 1409.2h0M1862.7 1404.8h0M1863.2 1409.2h0M1863.7 1404.8h0M1864.2 1409.2h0M1864.7 1404.8h0M1865.2 1409.2h0M1865.7 1404.8h0M1866.2 1409.2h0M1866.7 1404.8h0M1867.2 1409.2h0M1867.7 1404.8h0M1868.2 1409.2h0M1868.7 1404.8h0M1869.2 1409.2h0M1869.7 1404.8h0M1870.2 1409.2h0M1870.7 1404.8h0M1871.2 1409.2h0M1871.7 1404.8h0M1872.2 1409.2h0M1872.7 1404.8h0M1873.2 1409.2h0M1873.7 1404.8h0M1874.2 1409.2h0M1874.7 1404.8h0M1875.2 1409.2h0M1875.7 1404.8h0M1876.2 1409.2h0M1876.7 1404.8h0M1877.2 1409.2h0M1877.7 1404.8h0M1878.2 1409.2h0M1878.7 1404.8h0M1879.2 1409.2h0M1879.7 1404.8h0M1880.2 1409.2h0M1880.7 1404.8h0M1881.2 1409.2h0M1881.7 1404.8h0M1882.2 1409.2h0M1882.7 1404.8h0M1883.2 1409.2h0M1883.7 1404.8h0M1884.2 1409.2h0M1884.7 1404.8h0M1885.2 1409.2h0M1885.7 1404.8h0M1886.2 1409.2h0M1886.7 1404.8h0M1887.2 1409.2h0M1887.7 1404.8h0M1888.2 1409.2h0M1888.7 1404.8h0M1889.2 1409.2h0M1889.7 1404.8h0M1890.2 1409.2h0M1890.7 1404.8h0M1891.2 1409.2h0M1891.7 1404.8h0M1892.2 1409.2h0M1892.7 1404.8h0M1893.2 1409.2h0M1893.7 1404.8h0M1894.2 1409.2h0M1894.7 1404.8h0M1895.2 1409.2h0M1895.7 1404.8h0M1896.2 1409.2h0M1896.7 1404.8h0M1897.2 1409.2h0M1897.7 1404.8h0M1898.2 1409.2h0M1898.7 1404.8h0M1899.2 1409.2h0M1899.7 1404.8h0M1900.2 1409.2h0M1900.7 1404.8h0M1901.2 1409.2h0M1901.7 1404.8h0M1902.2 1409.2h0M1902.7 1404.8h0M1903.2 1409.2h0M1903.7 1404.9h0M1904.2 1409.3h0M1904.7 1404.9h0M1905.2 1409.3h0M1905.7 1404.9h0M1906.2 1409.3h0M1906.7 1404.9h0M1907.2 1409.3h0M1907.7 1404.9h0M1908.2 1409.3h0M1908.7 1404.9h0M1909.2 1409.3h0M1909.7 1404.9h0M1910.2 1409.3h0M1910.7 1404.9h0M1911.2 1409.3h0M1911.7 1404.9h0M1912.2 1409.3h0M1912.7 1404.9h0M1913.2 1409.3h0M1913.7 1404.9h0M1914.2 1409.3h0M1914.7 1404.9h0M1915.2 1409.3h0M1915.7 1404.9h0M1916.2 1409.3h0M1916.7 1404.9h0M1917.2 1409.3h0M1917.7 1404.9h0M1918.2 1409.3h0M1918.7 1404.9h0M1919.2 1409.3h0M1919.7 1404.9h0M1920.2 1409.3h0M1920.7 1404.9h0M1921.2 1409.3h0M1921.7 1404.9h0M1922.2 1409.3h0M1922.7 1404.9h0M1923.2 1409.3h0M1923.7 1404.9h0M1924.2 1409.3h0M1924.7 1404.9h0M1925.2 1409.3h0M1925.7 1404.9h0M1926.2 1409.3h0M1926.7 1404.9h0M1927.2 1409.3h0M1927.7 1404.9h0M1928.2 1409.3h0M1928.7 1404.9h0M1929.2 1409.3h0M1929.7 1404.9h0M1930.2 1409.3h0M1930.7 1404.9h0M1931.2 1409.3h0M1931.7 1404.9h0M1932.2 1409.3h0M1932.7 1404.9h0M1933.2 1409.3h0M1933.7 1404.9h0M1934.2 1409.3h0M1934.7 1404.9h0M1935.2 1409.3h0M1935.7 1404.9h0M1936.2 1409.3h0M1936.7 1404.9h0M1937.2 1409.3h0M1937.7 1404.9h0M1938.2 1409.3h0M1938.7 1404.9h0M1939.2 1409.3h0M1939.7 1404.9h0M1940.2 1409.3h0M1940.7 1404.9h0M1941.2 1409.3h0M1941.7 1404.9h0M1942.2 1409.3h0M1942.7 1404.9h0M1943.2 1409.3h0M1943.7 1404.9h0M1944.2 1409.3h0M1944.7 1404.9h0M1945.2 1409.3h0M1945.7 1404.9h0M1946.2 1409.3h0M1946.7 1404.9h0M1947.2 1409.3h0M1947.7 1404.9h0M1948.2 1409.3h0M1948.7 1404.9h0M1949.2 1409.3h0M1949.7 1404.9h0M1950.2 1409.3h0M1950.7 1404.9h0M1951.2 1409.3h0M1951.7 1404.9h0M1952.2 1409.3h0M1952.7 1404.9h0M1953.2 1409.3h0M1953.7 1404.9h0M1954.2 1409.3h0M1954.7 1404.9h0M1955.2 1409.3h0M1955.7 1404.9h0M1956.2 1409.3h0M1956.7 1404.9h0M1957.2 1409.3h0M1957.7 1404.9h0M1958.2 1409.3h0M1958.7 1404.9h0M1959.2 1409.3h0M1959.7 1404.9h0M1960.2 1409.3h0M1960.7 1404.9h0M1961.2 1409.3h0M1961.7 1404.9h0M1962.2 1409.3h0M1962.7 1404.9h0M1963.2 1409.3h0M1963.7 1404.9h0M1964.2 1409.3h0M1964.7 1404.9h0M1965.2 1409.3h0M1965.7 1404.9h0M1966.2 1409.3h0M1966.7 1404.9h0M1967.2 1409.3h0M1967.7 1404.9h0M1968.2 1409.3h0M1968.7 1404.9h0M1969.2 1409.3h0M1969.7 1404.9h0M1970.2 1409.3h0M1970.7 1404.9h0M1971.2 1409.3h0M1971.7 1404.9h0M1972.2 1409.3h0M1972.7 1404.9h0M1973.2 1409.3h0M1973.7 1404.9h0M1974.2 1409.3h0M1974.7 1404.9h0M1975.2 1409.3h0M1975.7 1404.9h0M1976.2 1409.3h0M1976.7 1404.9h0M1977.2 1409.3h0M1977.7 1404.9h0M1978.2 1409.3h0M1978.7 1404.9h0M1979.2 1409.3h0M1979.7 1404.9h0M1980.2 1409.3h0M1980.7 1404.9h0M1981.2 1409.3h0M1981.7 1404.9h0M1982.2 1409.3h0M1982.7 1404.9h0M1983.2 1409.3h0M1983.7 1404.9h0M1984.2 1409.3h0M1984.7 1404.9h0M1985.2 1409.3h0M1985.7 1404.9h0M1986.2 1409.3h0M1986.7 1404.9h0M1987.2 1409.3h0M1987.7 1404.9h0M1988.2 1409.3h0M1988.7 1404.9h0M1989.2 1409.3h0M1989.7 1404.9h0M1990.2 1409.3h0M1990.7 1404.9h0M1991.2 1409.3h0M1991.7 1404.9h0M1992.2 1409.3h0M1992.7 1404.9h0M1993.2 1409.3h0M1993.7 1404.9h0M1994.2 1409.3h0M1994.7 1404.9h0M1995.2 1409.3h0M1995.7 1404.9h0M1996.2 1409.3h0M1996.7 1404.9h0M1997.2 1409.3h0M1997.7 1404.9h0M1998.2 1409.3h0M1998.7 1404.9h0M1999.2 1409.3h0M1999.7 1404.9h0M2000.2 1409.3h0M2000.7 1404.9h0M2001.2 1409.3h0M2001.7 1404.9h0M2002.2 1409.3h0M2002.7 1404.9h0M2003.2 1409.3h0M2003.7 1404.9h0M2004.2 1409.3h0M2004.7 1404.9h0M2005.2 1409.3h0M2005.7 1404.9h0M2006.2 1409.3h0M2006.7 1404.9h0M2007.2 1409.3h0M2007.7 1404.9h0M2008.2 1409.3h0M2008.7 1404.9h0M2009.2 1409.3h0M2009.7 1404.9h0M2010.2 1409.3h0M2010.7 1404.9h0M2011.2 1409.3h0M2011.7 1404.9h0M2012.2 1409.3h0M2012.7 1404.9h0M2013.2 1409.3h0M2013.7 1404.9h0M2014.2 1409.3h0M2014.7 1405h0M2015.2 1409.4h0M2015.7 1405h0M2016.2 1409.4h0M2016.7 1405h0M2017.2 1409.4h0M2017.7 1405h0M2018.2 1409.4h0M2018.7 1405h0M2019.2 1409.4h0M2019.7 1405h0M2020.2 1409.4h0M2020.7 1405h0M2021.2 1409.4h0M2021.7 1405h0M2022.2 1409.4h0M2022.7 1405h0M2023.2 1409.4h0M2023.7 1405h0M2024.2 1409.4h0M2024.7 1405h0M2025.2 1409.4h0M2025.7 1405h0M2026.2 1409.4h0M2026.7 1405h0M2027.2 1409.4h0M2027.7 1405h0M2028.2 1409.4h0M2028.7 1405h0M2029.2 1409.4h0M2029.7 1405h0M2030.2 1409.4h0M2030.7 1405h0M2031.2 1409.4h0M2031.7 1405h0M2032.2 1409.4h0M2032.7 1405h0M2033.2 1409.4h0M2033.7 1405h0M2034.2 1409.4h0M2034.7 1405h0M2035.2 1409.4h0M2035.7 1405h0M2036.2 1409.4h0M2036.7 1405h0M2037.2 1409.4h0M2037.7 1405h0M2038.2 1409.4h0M2038.7 1405h0M2039.2 1409.4h0M2039.7 1405h0M2040.2 1409.4h0M2040.7 1405h0M2041.2 1409.4h0M2041.7 1405h0M2042.2 1409.4h0M2042.7 1405h0M2043.2 1409.4h0M2043.7 1405h0M2044.2 1409.4h0M2044.7 1405h0M2045.2 1409.4h0M2045.7 1405h0M2046.2 1409.4h0M2046.7 1405h0M2047.2 1409.4h0M2047.7 1405h0M2048.2 1409.4h0M2048.7 1405h0M2049.2 1409.4h0M2049.7 1405h0M2050.2 1409.4h0M2050.7 1405h0M2051.2 1409.4h0M2051.7 1405h0M2052.2 1409.4h0M2052.7 1405h0M2053.2 1409.4h0M2053.7 1405h0M2054.2 1409.4h0M2054.7 1405h0M2055.2 1409.4h0M2055.7 1405h0M2056.2 1409.4h0M2056.7 1405h0M2057.2 1409.4h0M2057.7 1405h0M2058.2 1409.4h0M2058.7 1405h0M2059.2 1409.4h0M2059.7 1405h0M2060.2 1409.4h0M2060.7 1405h0M2061.2 1409.4h0M2061.7 1405h0M2062.2 1409.4h0M2062.7 1405h0M2063.2 1409.4h0M2063.7 1405h0M2064.2 1409.4h0M2064.5 1407.2h0"/>
</g>
<g fill="#000" shape-rendering="crispEdges">
<rect x="268" y="51" width="5" height="1466"/>
<rect x="2080" y="51" width="6" height="1466"/>
<rect x="268" y="51" width="1818" height="6"/>
<rect x="268" y="1511" width="1818" height="6"/>
<rect x="241" y="1511" width="29" height="6"/>
<rect x="241" y="1378" width="29" height="6"/>
<rect x="241" y="1245" width="29" height="6"/>
<rect x="241" y="1113" width="29" height="6"/>
<rect x="241" y="980" width="29" height="6"/>
<rect x="241" y="847" width="29" height="6"/>
<rect x="241" y="714" width="29" height="6"/>
<rect x="241" y="581" width="29" height="6"/>
<rect x="241" y="449" width="29" height="6"/>
<rect x="241" y="316" width="29" height="6"/>
<rect x="241" y="183" width="29" height="6"/>
<rect x="241" y="51" width="29" height="6"/>
<rect x="256" y="1445" width="14" height="5"/>
<rect x="256" y="1312" width="14" height="5"/>
<rect x="256" y="1180" width="14" height="5"/>
<rect x="256" y="1047" width="14" height="5"/>
<rect x="256" y="914" width="14" height="5"/>
<rect x="256" y="781" width="14" height="5"/>
<rect x="256" y="648" width="14" height="5"/>
<rect x="256" y="515" width="14" height="5"/>
<rect x="256" y="383" width="14" height="5"/>
<rect x="256" y="250" width="14" height="5"/>
<rect x="256" y="117" width="14" height="5"/>
<rect x="310" y="1514" width="6" height="28"/>
<rect x="748" y="1514" width="6" height="28"/>
<rect x="1186" y="1514" width="6" height="28"/>
<rect x="1624" y="1514" width="6" height="28"/>
<rect x="2062" y="1514" width="6" height="28"/>
<rect x="268" y="1514" width="5" height="13"/>
<rect x="290" y="1514" width="6" height="13"/>
<rect x="442" y="1514" width="6" height="13"/>
<rect x="519" y="1514" width="6" height="13"/>
<rect x="574" y="1514" width="6" height="13"/>
<rect x="616" y="1514" width="6" height="13"/>
<rect x="651" y="1514" width="6" height="13"/>
<rect x="680" y="1514" width="6" height="13"/>
<rect x="705" y="1514" width="6" height="13"/>
<rect x="728" y="1514" width="6" height="13"/>
<rect x="880" y="1514" width="6" height="13"/>
<rect x="957" y="1514" width="6" height="13"/>
<rect x="1011" y="1514" width="6" height="13"/>
<rect x="1054" y="1514" width="6" height="13"/>
<rect x="1089" y="1514" width="6" height="13"/>
<rect x="1118" y="1514" width="6" height="13"/>
<rect x="1143" y="1514" width="6" height="13"/>
<rect x="1166" y="1514" width="6" height="13"/>
<rect x="1318" y="1514" width="6" height="13"/>
<rect x="1395" y="1514" width="6" height="13"/>
<rect x="1449" y="1514" width="6" height="13"/>
<rect x="1492" y="1514" width="6" height="13"/>
<rect x="1527" y="1514" width="6" height="13"/>
<rect x="1556" y="1514" width="6" height="13"/>
<rect x="1581" y="1514" width="6" height="13"/>
<rect x="1604" y="1514" width="6" height="13"/>
<rect x="1755" y="1514" width="6" height="13"/>
<rect x="1833" y="1514" width="6" height="13"/>
<rect x="1887" y="1514" width="6" height="13"/>
<rect x="1930" y="1514" width="6" height="13"/>
<rect x="1964" y="1514" width="6" height="13"/>
<rect x="1994" y="1514" width="6" height="13"/>
<rect x="2019" y="1514" width="6" height="13"/>
<rect x="2042" y="1514" width="6" height="13"/>
</g>
<text y="1536.7" font-size="63.5"><tspan x="128.3 159.7 190.3">0.0</tspan></text>
<text y="1403.9" font-size="63.5"><tspan x="128.3 159.7 190.3">0.1</tspan></text>
<text y="1271.1" font-size="63.5"><tspan x="128.3 159.7 190.3">0.2</tspan></text>
<text y="1138.3" font-size="63.5"><tspan x="128.3 159.7 190.3">0.3</tspan></text>
<text y="1005.5" font-size="63.5"><tspan x="128.3 159.7 190.3">0.4</tspan></text>
<text y="872.7" font-size="63.5"><tspan x="128.3 159.7 190.3">0.5</tspan></text>
<text y="739.9" font-size="63.5"><tspan x="128.3 159.7 190.3">0.6</tspan></text>
<text y="607.1" font-size="63.5"><tspan x="128.3 159.7 190.3">0.7</tspan></text>
<text y="474.3" font-size="63.5"><tspan x="128.3 159.7 190.3">0.8</tspan></text>
<text y="341.5" font-size="63.5"><tspan x="128.3 159.7 190.3">0.9</tspan></text>
<text y="208.7" font-size="63.5"><tspan x="128.3 159.7 190.3">1.0</tspan></text>
<text y="76.7" font-size="63.5"><tspan x="128.3 159.7 190.3">1.1</tspan></text>
<text y="1623.2" font-size="63.5"><tspan x="271.2 302.2">10</tspan><tspan class="s" x="333.6" dy="-25" font-size="41.5">0</tspan></text>
<text y="1623.2" font-size="63.5"><tspan x="709.1 740.1">10</tspan><tspan class="s" x="771.5" dy="-25" font-size="41.5">1</tspan></text>
<text y="1623.2" font-size="63.5"><tspan x="1147 1178">10</tspan><tspan class="s" x="1209.4" dy="-25" font-size="41.5">2</tspan></text>
<text y="1623.2" font-size="63.5"><tspan x="1584.9 1615.9">10</tspan><tspan class="s" x="1647.3" dy="-25" font-size="41.5">3</tspan></text>
<text y="1623.2" font-size="63.5"><tspan x="2022.8 2053.8">10</tspan><tspan class="s" x="2085.2" dy="-25" font-size="41.5">4</tspan></text>
<text aria-label="Number of event samples" y="1718.5" font-size="76"><tspan class="c" x="737.5" textLength="38" lengthAdjust="spacingAndGlyphs">N</tspan><tspan x="775.5">u</tspan><tspan x="813.9" textLength="37.2" lengthAdjust="spacingAndGlyphs">m</tspan><tspan x="851.5 891.6 933.8 975 1003.5 1047.8 1089 1119.6 1155.5 1195.6 1231.5 1277.9 1317 1349.7 1385.6">ber of event sa</tspan><tspan x="1421.9" textLength="37.2" lengthAdjust="spacingAndGlyphs">m</tspan><tspan x="1459.5 1505.9 1537.6 1577.7">ples</tspan></text>
<g transform="translate(85.7,870) rotate(-90)"><text y="0" font-size="76"><tspan class="c" x="0" textLength="150" lengthAdjust="spacingAndGlyphs">GWED</tspan><tspan class="s" x="149.5" dy="21" font-size="51" textLength="26" lengthAdjust="spacingAndGlyphs">N</tspan></text></g>
<g shape-rendering="crispEdges"><rect x="1507.4" y="103.1" width="531.5" height="392.4" fill="#fff"/>
<rect x="1507" y="103" width="532" height="2"/><rect x="1507" y="493" width="532" height="2"/><rect x="1507" y="103" width="1" height="392"/><rect x="2038" y="103" width="1" height="392"/>
<rect x="1571" y="134" width="28" height="29" fill="#515151"/>
<rect x="1571" y="210" width="28" height="28" fill="#F14040"/>
<rect x="1571" y="285" width="28" height="28" fill="#1A6FDF"/>
<rect x="1571" y="361" width="28" height="28" fill="#37AD6B"/>
<rect x="1571" y="436" width="28" height="29" fill="#B177DE"/>
</g>
<text y="171.9" font-size="69"><tspan class="c" x="1687" textLength="138" lengthAdjust="spacingAndGlyphs">TORE</tspan></text>
<text y="247.4" font-size="69"><tspan class="c" x="1687" textLength="207" lengthAdjust="spacingAndGlyphs">ATSLTD</tspan></text>
<text aria-label="Voxel Grid" y="322.9" font-size="69"><tspan class="c" x="1687" textLength="34.5" lengthAdjust="spacingAndGlyphs">V</tspan><tspan x="1721.5 1756 1792.4 1832.7 1868.1">oxel </tspan><tspan class="c" x="1894" textLength="34.5" lengthAdjust="spacingAndGlyphs">G</tspan><tspan x="1934.3 1970.7 1997.5">rid</tspan></text>
<text y="398.4" font-size="69"><tspan class="c" x="1687" textLength="138" lengthAdjust="spacingAndGlyphs">MDES</tspan></text>
<text aria-label="Ours" y="473.9" font-size="69"><tspan class="c" x="1687" textLength="34.5" lengthAdjust="spacingAndGlyphs">O</tspan><tspan x="1721.5 1761.8 1794.3">urs</tspan></text>
</svg></body></html>
